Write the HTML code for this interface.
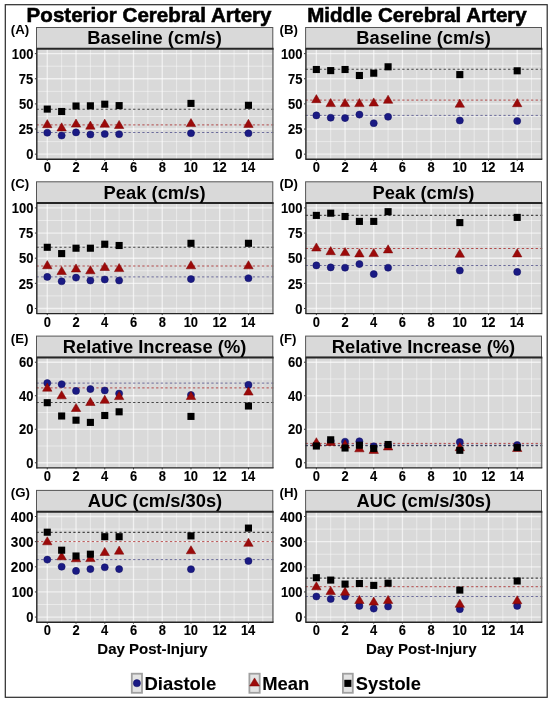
<!DOCTYPE html>
<html><head><meta charset="utf-8"><title>Cerebral Artery Velocities</title>
<style>html,body{margin:0;padding:0;background:#fff;width:550px;height:702px;overflow:hidden}</style>
</head><body>
<svg width="550" height="702" viewBox="0 0 550 702" style="display:block;font-family:'Liberation Sans', sans-serif;will-change:transform" font-weight="bold">
<rect x="0" y="0" width="550" height="702" fill="#fff"/>
<rect x="36.50" y="27.50" width="236.30" height="21.20" fill="#d9d9d9" stroke="#555555" stroke-width="1"/>
<rect x="36.50" y="48.60" width="237.10" height="110.60" fill="#d9d9d9"/>
<line x1="36.50" x2="273.60" y1="141.60" y2="141.60" stroke="#fff" stroke-opacity="0.5" stroke-width="0.9"/>
<line x1="36.50" x2="273.60" y1="116.47" y2="116.47" stroke="#fff" stroke-opacity="0.5" stroke-width="0.9"/>
<line x1="36.50" x2="273.60" y1="91.33" y2="91.33" stroke="#fff" stroke-opacity="0.5" stroke-width="0.9"/>
<line x1="36.50" x2="273.60" y1="66.20" y2="66.20" stroke="#fff" stroke-opacity="0.5" stroke-width="0.9"/>
<line x1="61.65" x2="61.65" y1="48.60" y2="159.20" stroke="#fff" stroke-opacity="0.5" stroke-width="0.9"/>
<line x1="90.39" x2="90.39" y1="48.60" y2="159.20" stroke="#fff" stroke-opacity="0.5" stroke-width="0.9"/>
<line x1="119.13" x2="119.13" y1="48.60" y2="159.20" stroke="#fff" stroke-opacity="0.5" stroke-width="0.9"/>
<line x1="147.87" x2="147.87" y1="48.60" y2="159.20" stroke="#fff" stroke-opacity="0.5" stroke-width="0.9"/>
<line x1="176.60" x2="176.60" y1="48.60" y2="159.20" stroke="#fff" stroke-opacity="0.5" stroke-width="0.9"/>
<line x1="205.34" x2="205.34" y1="48.60" y2="159.20" stroke="#fff" stroke-opacity="0.5" stroke-width="0.9"/>
<line x1="234.08" x2="234.08" y1="48.60" y2="159.20" stroke="#fff" stroke-opacity="0.5" stroke-width="0.9"/>
<line x1="262.82" x2="262.82" y1="48.60" y2="159.20" stroke="#fff" stroke-opacity="0.5" stroke-width="0.9"/>
<line x1="36.50" x2="273.60" y1="154.17" y2="154.17" stroke="#fff" stroke-opacity="0.62" stroke-width="1.35"/>
<line x1="36.50" x2="273.60" y1="129.04" y2="129.04" stroke="#fff" stroke-opacity="0.62" stroke-width="1.35"/>
<line x1="36.50" x2="273.60" y1="103.90" y2="103.90" stroke="#fff" stroke-opacity="0.62" stroke-width="1.35"/>
<line x1="36.50" x2="273.60" y1="78.76" y2="78.76" stroke="#fff" stroke-opacity="0.62" stroke-width="1.35"/>
<line x1="36.50" x2="273.60" y1="53.63" y2="53.63" stroke="#fff" stroke-opacity="0.62" stroke-width="1.35"/>
<line x1="47.28" x2="47.28" y1="48.60" y2="159.20" stroke="#fff" stroke-opacity="0.62" stroke-width="1.35"/>
<line x1="76.02" x2="76.02" y1="48.60" y2="159.20" stroke="#fff" stroke-opacity="0.62" stroke-width="1.35"/>
<line x1="104.76" x2="104.76" y1="48.60" y2="159.20" stroke="#fff" stroke-opacity="0.62" stroke-width="1.35"/>
<line x1="133.50" x2="133.50" y1="48.60" y2="159.20" stroke="#fff" stroke-opacity="0.62" stroke-width="1.35"/>
<line x1="162.23" x2="162.23" y1="48.60" y2="159.20" stroke="#fff" stroke-opacity="0.62" stroke-width="1.35"/>
<line x1="190.97" x2="190.97" y1="48.60" y2="159.20" stroke="#fff" stroke-opacity="0.62" stroke-width="1.35"/>
<line x1="219.71" x2="219.71" y1="48.60" y2="159.20" stroke="#fff" stroke-opacity="0.62" stroke-width="1.35"/>
<line x1="248.45" x2="248.45" y1="48.60" y2="159.20" stroke="#fff" stroke-opacity="0.62" stroke-width="1.35"/>
<line x1="36.50" x2="273.60" y1="109.30" y2="109.30" stroke="#2a2a2a" stroke-width="1.1" stroke-dasharray="2.3 2.3" stroke-opacity="0.85"/>
<line x1="36.50" x2="273.60" y1="124.90" y2="124.90" stroke="#a01010" stroke-width="0.95" stroke-dasharray="2.3 2.3" stroke-opacity="0.75"/>
<line x1="36.50" x2="273.60" y1="132.50" y2="132.50" stroke="#33337a" stroke-width="0.95" stroke-dasharray="2.3 2.3" stroke-opacity="0.7"/>
<circle cx="47.28" cy="132.70" r="3.55" fill="#1a1a84" stroke="#0e0e60" stroke-width="0.5"/>
<circle cx="61.65" cy="135.50" r="3.55" fill="#1a1a84" stroke="#0e0e60" stroke-width="0.5"/>
<circle cx="76.02" cy="132.40" r="3.55" fill="#1a1a84" stroke="#0e0e60" stroke-width="0.5"/>
<circle cx="90.39" cy="134.50" r="3.55" fill="#1a1a84" stroke="#0e0e60" stroke-width="0.5"/>
<circle cx="104.76" cy="134.00" r="3.55" fill="#1a1a84" stroke="#0e0e60" stroke-width="0.5"/>
<circle cx="119.13" cy="134.20" r="3.55" fill="#1a1a84" stroke="#0e0e60" stroke-width="0.5"/>
<circle cx="190.97" cy="133.20" r="3.55" fill="#1a1a84" stroke="#0e0e60" stroke-width="0.5"/>
<circle cx="248.45" cy="133.30" r="3.55" fill="#1a1a84" stroke="#0e0e60" stroke-width="0.5"/>
<polygon points="47.28,119.60 51.98,127.70 42.58,127.70" fill="#9c0a0a" stroke="#7a0000" stroke-width="0.5"/>
<polygon points="61.65,122.80 66.35,130.90 56.95,130.90" fill="#9c0a0a" stroke="#7a0000" stroke-width="0.5"/>
<polygon points="76.02,119.00 80.72,127.10 71.32,127.10" fill="#9c0a0a" stroke="#7a0000" stroke-width="0.5"/>
<polygon points="90.39,121.10 95.09,129.20 85.69,129.20" fill="#9c0a0a" stroke="#7a0000" stroke-width="0.5"/>
<polygon points="104.76,119.10 109.46,127.20 100.06,127.20" fill="#9c0a0a" stroke="#7a0000" stroke-width="0.5"/>
<polygon points="119.13,120.40 123.83,128.50 114.43,128.50" fill="#9c0a0a" stroke="#7a0000" stroke-width="0.5"/>
<polygon points="190.97,118.50 195.67,126.60 186.27,126.60" fill="#9c0a0a" stroke="#7a0000" stroke-width="0.5"/>
<polygon points="248.45,119.30 253.15,127.40 243.75,127.40" fill="#9c0a0a" stroke="#7a0000" stroke-width="0.5"/>
<rect x="43.73" y="105.55" width="7.1" height="7.1" fill="#000000"/>
<rect x="58.10" y="107.95" width="7.1" height="7.1" fill="#000000"/>
<rect x="72.47" y="102.45" width="7.1" height="7.1" fill="#000000"/>
<rect x="86.84" y="102.25" width="7.1" height="7.1" fill="#000000"/>
<rect x="101.21" y="100.65" width="7.1" height="7.1" fill="#000000"/>
<rect x="115.58" y="102.05" width="7.1" height="7.1" fill="#000000"/>
<rect x="187.42" y="99.85" width="7.1" height="7.1" fill="#000000"/>
<rect x="244.90" y="101.75" width="7.1" height="7.1" fill="#000000"/>
<line x1="272.90" x2="272.90" y1="48.60" y2="159.20" stroke="#707070" stroke-width="1.4"/>
<line x1="36.50" x2="273.60" y1="48.80" y2="48.80" stroke="#262626" stroke-width="2"/>
<line x1="36.80" x2="36.80" y1="48.60" y2="159.80" stroke="#262626" stroke-width="1.4"/>
<line x1="36.50" x2="273.60" y1="159.30" y2="159.30" stroke="#262626" stroke-width="1.4"/>
<line x1="34.90" x2="36.50" y1="154.17" y2="154.17" stroke="#333" stroke-width="1"/>
<text x="26.22" y="159.37" font-size="14.10" textLength="7.21" lengthAdjust="spacingAndGlyphs" fill="#000" stroke="#000" stroke-width="0.10">0</text>
<line x1="34.90" x2="36.50" y1="129.04" y2="129.04" stroke="#333" stroke-width="1"/>
<text x="18.83" y="134.24" font-size="14.10" textLength="14.43" lengthAdjust="spacingAndGlyphs" fill="#000" stroke="#000" stroke-width="0.10">25</text>
<line x1="34.90" x2="36.50" y1="103.90" y2="103.90" stroke="#333" stroke-width="1"/>
<text x="19.00" y="109.10" font-size="14.10" textLength="14.43" lengthAdjust="spacingAndGlyphs" fill="#000" stroke="#000" stroke-width="0.10">50</text>
<line x1="34.90" x2="36.50" y1="78.76" y2="78.76" stroke="#333" stroke-width="1"/>
<text x="18.83" y="83.96" font-size="14.10" textLength="14.43" lengthAdjust="spacingAndGlyphs" fill="#000" stroke="#000" stroke-width="0.10">75</text>
<line x1="34.90" x2="36.50" y1="53.63" y2="53.63" stroke="#333" stroke-width="1"/>
<text x="11.79" y="58.83" font-size="14.10" textLength="21.64" lengthAdjust="spacingAndGlyphs" fill="#000" stroke="#000" stroke-width="0.10">100</text>
<line x1="47.28" x2="47.28" y1="159.20" y2="160.80" stroke="#333" stroke-width="1"/>
<text x="43.69" y="172.35" font-size="13.90" textLength="7.19" lengthAdjust="spacingAndGlyphs" fill="#000" stroke="#000" stroke-width="0.10">0</text>
<line x1="76.02" x2="76.02" y1="159.20" y2="160.80" stroke="#333" stroke-width="1"/>
<text x="72.46" y="172.35" font-size="13.90" textLength="7.19" lengthAdjust="spacingAndGlyphs" fill="#000" stroke="#000" stroke-width="0.10">2</text>
<line x1="104.76" x2="104.76" y1="159.20" y2="160.80" stroke="#333" stroke-width="1"/>
<text x="101.10" y="172.35" font-size="13.90" textLength="7.19" lengthAdjust="spacingAndGlyphs" fill="#000" stroke="#000" stroke-width="0.10">4</text>
<line x1="133.50" x2="133.50" y1="159.20" y2="160.80" stroke="#333" stroke-width="1"/>
<text x="129.90" y="172.35" font-size="13.90" textLength="7.19" lengthAdjust="spacingAndGlyphs" fill="#000" stroke="#000" stroke-width="0.10">6</text>
<line x1="162.23" x2="162.23" y1="159.20" y2="160.80" stroke="#333" stroke-width="1"/>
<text x="158.63" y="172.35" font-size="13.90" textLength="7.19" lengthAdjust="spacingAndGlyphs" fill="#000" stroke="#000" stroke-width="0.10">8</text>
<line x1="190.97" x2="190.97" y1="159.20" y2="160.80" stroke="#333" stroke-width="1"/>
<text x="183.64" y="172.35" font-size="13.90" textLength="14.38" lengthAdjust="spacingAndGlyphs" fill="#000" stroke="#000" stroke-width="0.10">10</text>
<line x1="219.71" x2="219.71" y1="159.20" y2="160.80" stroke="#333" stroke-width="1"/>
<text x="212.38" y="172.35" font-size="13.90" textLength="14.38" lengthAdjust="spacingAndGlyphs" fill="#000" stroke="#000" stroke-width="0.10">12</text>
<line x1="248.45" x2="248.45" y1="159.20" y2="160.80" stroke="#333" stroke-width="1"/>
<text x="240.89" y="172.35" font-size="13.90" textLength="14.38" lengthAdjust="spacingAndGlyphs" fill="#000" stroke="#000" stroke-width="0.10">14</text>
<text x="87.32" y="44.20" font-size="17.60" textLength="134.54" lengthAdjust="spacingAndGlyphs" fill="#000">Baseline (cm/s)</text>
<text x="10.74" y="34.10" font-size="12.80" textLength="18.41" lengthAdjust="spacingAndGlyphs" fill="#000">(A)</text>
<rect x="305.60" y="27.50" width="235.90" height="21.20" fill="#d9d9d9" stroke="#555555" stroke-width="1"/>
<rect x="305.60" y="48.60" width="236.70" height="110.60" fill="#d9d9d9"/>
<line x1="305.60" x2="542.30" y1="141.60" y2="141.60" stroke="#fff" stroke-opacity="0.5" stroke-width="0.9"/>
<line x1="305.60" x2="542.30" y1="116.47" y2="116.47" stroke="#fff" stroke-opacity="0.5" stroke-width="0.9"/>
<line x1="305.60" x2="542.30" y1="91.33" y2="91.33" stroke="#fff" stroke-opacity="0.5" stroke-width="0.9"/>
<line x1="305.60" x2="542.30" y1="66.20" y2="66.20" stroke="#fff" stroke-opacity="0.5" stroke-width="0.9"/>
<line x1="330.70" x2="330.70" y1="48.60" y2="159.20" stroke="#fff" stroke-opacity="0.5" stroke-width="0.9"/>
<line x1="359.40" x2="359.40" y1="48.60" y2="159.20" stroke="#fff" stroke-opacity="0.5" stroke-width="0.9"/>
<line x1="388.09" x2="388.09" y1="48.60" y2="159.20" stroke="#fff" stroke-opacity="0.5" stroke-width="0.9"/>
<line x1="416.78" x2="416.78" y1="48.60" y2="159.20" stroke="#fff" stroke-opacity="0.5" stroke-width="0.9"/>
<line x1="445.47" x2="445.47" y1="48.60" y2="159.20" stroke="#fff" stroke-opacity="0.5" stroke-width="0.9"/>
<line x1="474.16" x2="474.16" y1="48.60" y2="159.20" stroke="#fff" stroke-opacity="0.5" stroke-width="0.9"/>
<line x1="502.85" x2="502.85" y1="48.60" y2="159.20" stroke="#fff" stroke-opacity="0.5" stroke-width="0.9"/>
<line x1="531.54" x2="531.54" y1="48.60" y2="159.20" stroke="#fff" stroke-opacity="0.5" stroke-width="0.9"/>
<line x1="305.60" x2="542.30" y1="154.17" y2="154.17" stroke="#fff" stroke-opacity="0.62" stroke-width="1.35"/>
<line x1="305.60" x2="542.30" y1="129.04" y2="129.04" stroke="#fff" stroke-opacity="0.62" stroke-width="1.35"/>
<line x1="305.60" x2="542.30" y1="103.90" y2="103.90" stroke="#fff" stroke-opacity="0.62" stroke-width="1.35"/>
<line x1="305.60" x2="542.30" y1="78.76" y2="78.76" stroke="#fff" stroke-opacity="0.62" stroke-width="1.35"/>
<line x1="305.60" x2="542.30" y1="53.63" y2="53.63" stroke="#fff" stroke-opacity="0.62" stroke-width="1.35"/>
<line x1="316.36" x2="316.36" y1="48.60" y2="159.20" stroke="#fff" stroke-opacity="0.62" stroke-width="1.35"/>
<line x1="345.05" x2="345.05" y1="48.60" y2="159.20" stroke="#fff" stroke-opacity="0.62" stroke-width="1.35"/>
<line x1="373.74" x2="373.74" y1="48.60" y2="159.20" stroke="#fff" stroke-opacity="0.62" stroke-width="1.35"/>
<line x1="402.43" x2="402.43" y1="48.60" y2="159.20" stroke="#fff" stroke-opacity="0.62" stroke-width="1.35"/>
<line x1="431.12" x2="431.12" y1="48.60" y2="159.20" stroke="#fff" stroke-opacity="0.62" stroke-width="1.35"/>
<line x1="459.81" x2="459.81" y1="48.60" y2="159.20" stroke="#fff" stroke-opacity="0.62" stroke-width="1.35"/>
<line x1="488.50" x2="488.50" y1="48.60" y2="159.20" stroke="#fff" stroke-opacity="0.62" stroke-width="1.35"/>
<line x1="517.20" x2="517.20" y1="48.60" y2="159.20" stroke="#fff" stroke-opacity="0.62" stroke-width="1.35"/>
<line x1="305.60" x2="542.30" y1="69.20" y2="69.20" stroke="#2a2a2a" stroke-width="1.1" stroke-dasharray="2.3 2.3" stroke-opacity="0.85"/>
<line x1="305.60" x2="542.30" y1="100.10" y2="100.10" stroke="#a01010" stroke-width="0.95" stroke-dasharray="2.3 2.3" stroke-opacity="0.75"/>
<line x1="305.60" x2="542.30" y1="115.40" y2="115.40" stroke="#33337a" stroke-width="0.95" stroke-dasharray="2.3 2.3" stroke-opacity="0.7"/>
<circle cx="316.36" cy="115.40" r="3.55" fill="#1a1a84" stroke="#0e0e60" stroke-width="0.5"/>
<circle cx="330.70" cy="117.70" r="3.55" fill="#1a1a84" stroke="#0e0e60" stroke-width="0.5"/>
<circle cx="345.05" cy="118.10" r="3.55" fill="#1a1a84" stroke="#0e0e60" stroke-width="0.5"/>
<circle cx="359.40" cy="114.60" r="3.55" fill="#1a1a84" stroke="#0e0e60" stroke-width="0.5"/>
<circle cx="373.74" cy="123.20" r="3.55" fill="#1a1a84" stroke="#0e0e60" stroke-width="0.5"/>
<circle cx="388.09" cy="116.80" r="3.55" fill="#1a1a84" stroke="#0e0e60" stroke-width="0.5"/>
<circle cx="459.81" cy="120.50" r="3.55" fill="#1a1a84" stroke="#0e0e60" stroke-width="0.5"/>
<circle cx="517.20" cy="121.00" r="3.55" fill="#1a1a84" stroke="#0e0e60" stroke-width="0.5"/>
<polygon points="316.36,94.60 321.06,102.70 311.66,102.70" fill="#9c0a0a" stroke="#7a0000" stroke-width="0.5"/>
<polygon points="330.70,98.50 335.40,106.60 326.00,106.60" fill="#9c0a0a" stroke="#7a0000" stroke-width="0.5"/>
<polygon points="345.05,98.50 349.75,106.60 340.35,106.60" fill="#9c0a0a" stroke="#7a0000" stroke-width="0.5"/>
<polygon points="359.40,98.50 364.10,106.60 354.70,106.60" fill="#9c0a0a" stroke="#7a0000" stroke-width="0.5"/>
<polygon points="373.74,97.90 378.44,106.00 369.04,106.00" fill="#9c0a0a" stroke="#7a0000" stroke-width="0.5"/>
<polygon points="388.09,95.20 392.79,103.30 383.39,103.30" fill="#9c0a0a" stroke="#7a0000" stroke-width="0.5"/>
<polygon points="459.81,99.10 464.51,107.20 455.11,107.20" fill="#9c0a0a" stroke="#7a0000" stroke-width="0.5"/>
<polygon points="517.20,98.60 521.90,106.70 512.50,106.70" fill="#9c0a0a" stroke="#7a0000" stroke-width="0.5"/>
<rect x="312.81" y="65.95" width="7.1" height="7.1" fill="#000000"/>
<rect x="327.15" y="67.05" width="7.1" height="7.1" fill="#000000"/>
<rect x="341.50" y="65.95" width="7.1" height="7.1" fill="#000000"/>
<rect x="355.85" y="71.95" width="7.1" height="7.1" fill="#000000"/>
<rect x="370.19" y="69.65" width="7.1" height="7.1" fill="#000000"/>
<rect x="384.54" y="63.25" width="7.1" height="7.1" fill="#000000"/>
<rect x="456.26" y="71.05" width="7.1" height="7.1" fill="#000000"/>
<rect x="513.65" y="67.25" width="7.1" height="7.1" fill="#000000"/>
<line x1="541.60" x2="541.60" y1="48.60" y2="159.20" stroke="#707070" stroke-width="1.4"/>
<line x1="305.60" x2="542.30" y1="48.80" y2="48.80" stroke="#262626" stroke-width="2"/>
<line x1="305.90" x2="305.90" y1="48.60" y2="159.80" stroke="#262626" stroke-width="1.4"/>
<line x1="305.60" x2="542.30" y1="159.30" y2="159.30" stroke="#262626" stroke-width="1.4"/>
<line x1="304.00" x2="305.60" y1="154.17" y2="154.17" stroke="#333" stroke-width="1"/>
<text x="295.32" y="159.37" font-size="14.10" textLength="7.21" lengthAdjust="spacingAndGlyphs" fill="#000" stroke="#000" stroke-width="0.10">0</text>
<line x1="304.00" x2="305.60" y1="129.04" y2="129.04" stroke="#333" stroke-width="1"/>
<text x="287.93" y="134.24" font-size="14.10" textLength="14.43" lengthAdjust="spacingAndGlyphs" fill="#000" stroke="#000" stroke-width="0.10">25</text>
<line x1="304.00" x2="305.60" y1="103.90" y2="103.90" stroke="#333" stroke-width="1"/>
<text x="288.10" y="109.10" font-size="14.10" textLength="14.43" lengthAdjust="spacingAndGlyphs" fill="#000" stroke="#000" stroke-width="0.10">50</text>
<line x1="304.00" x2="305.60" y1="78.76" y2="78.76" stroke="#333" stroke-width="1"/>
<text x="287.93" y="83.96" font-size="14.10" textLength="14.43" lengthAdjust="spacingAndGlyphs" fill="#000" stroke="#000" stroke-width="0.10">75</text>
<line x1="304.00" x2="305.60" y1="53.63" y2="53.63" stroke="#333" stroke-width="1"/>
<text x="280.89" y="58.83" font-size="14.10" textLength="21.64" lengthAdjust="spacingAndGlyphs" fill="#000" stroke="#000" stroke-width="0.10">100</text>
<line x1="316.36" x2="316.36" y1="159.20" y2="160.80" stroke="#333" stroke-width="1"/>
<text x="312.77" y="172.35" font-size="13.90" textLength="7.19" lengthAdjust="spacingAndGlyphs" fill="#000" stroke="#000" stroke-width="0.10">0</text>
<line x1="345.05" x2="345.05" y1="159.20" y2="160.80" stroke="#333" stroke-width="1"/>
<text x="341.49" y="172.35" font-size="13.90" textLength="7.19" lengthAdjust="spacingAndGlyphs" fill="#000" stroke="#000" stroke-width="0.10">2</text>
<line x1="373.74" x2="373.74" y1="159.20" y2="160.80" stroke="#333" stroke-width="1"/>
<text x="370.08" y="172.35" font-size="13.90" textLength="7.19" lengthAdjust="spacingAndGlyphs" fill="#000" stroke="#000" stroke-width="0.10">4</text>
<line x1="402.43" x2="402.43" y1="159.20" y2="160.80" stroke="#333" stroke-width="1"/>
<text x="398.83" y="172.35" font-size="13.90" textLength="7.19" lengthAdjust="spacingAndGlyphs" fill="#000" stroke="#000" stroke-width="0.10">6</text>
<line x1="431.12" x2="431.12" y1="159.20" y2="160.80" stroke="#333" stroke-width="1"/>
<text x="427.52" y="172.35" font-size="13.90" textLength="7.19" lengthAdjust="spacingAndGlyphs" fill="#000" stroke="#000" stroke-width="0.10">8</text>
<line x1="459.81" x2="459.81" y1="159.20" y2="160.80" stroke="#333" stroke-width="1"/>
<text x="452.48" y="172.35" font-size="13.90" textLength="14.38" lengthAdjust="spacingAndGlyphs" fill="#000" stroke="#000" stroke-width="0.10">10</text>
<line x1="488.50" x2="488.50" y1="159.20" y2="160.80" stroke="#333" stroke-width="1"/>
<text x="481.17" y="172.35" font-size="13.90" textLength="14.38" lengthAdjust="spacingAndGlyphs" fill="#000" stroke="#000" stroke-width="0.10">12</text>
<line x1="517.20" x2="517.20" y1="159.20" y2="160.80" stroke="#333" stroke-width="1"/>
<text x="509.63" y="172.35" font-size="13.90" textLength="14.38" lengthAdjust="spacingAndGlyphs" fill="#000" stroke="#000" stroke-width="0.10">14</text>
<text x="356.22" y="44.20" font-size="17.60" textLength="134.54" lengthAdjust="spacingAndGlyphs" fill="#000">Baseline (cm/s)</text>
<text x="279.54" y="34.10" font-size="12.80" textLength="18.41" lengthAdjust="spacingAndGlyphs" fill="#000">(B)</text>
<rect x="36.50" y="181.80" width="236.30" height="21.20" fill="#d9d9d9" stroke="#555555" stroke-width="1"/>
<rect x="36.50" y="202.90" width="237.10" height="110.60" fill="#d9d9d9"/>
<line x1="36.50" x2="273.60" y1="295.90" y2="295.90" stroke="#fff" stroke-opacity="0.5" stroke-width="0.9"/>
<line x1="36.50" x2="273.60" y1="270.77" y2="270.77" stroke="#fff" stroke-opacity="0.5" stroke-width="0.9"/>
<line x1="36.50" x2="273.60" y1="245.63" y2="245.63" stroke="#fff" stroke-opacity="0.5" stroke-width="0.9"/>
<line x1="36.50" x2="273.60" y1="220.50" y2="220.50" stroke="#fff" stroke-opacity="0.5" stroke-width="0.9"/>
<line x1="61.65" x2="61.65" y1="202.90" y2="313.50" stroke="#fff" stroke-opacity="0.5" stroke-width="0.9"/>
<line x1="90.39" x2="90.39" y1="202.90" y2="313.50" stroke="#fff" stroke-opacity="0.5" stroke-width="0.9"/>
<line x1="119.13" x2="119.13" y1="202.90" y2="313.50" stroke="#fff" stroke-opacity="0.5" stroke-width="0.9"/>
<line x1="147.87" x2="147.87" y1="202.90" y2="313.50" stroke="#fff" stroke-opacity="0.5" stroke-width="0.9"/>
<line x1="176.60" x2="176.60" y1="202.90" y2="313.50" stroke="#fff" stroke-opacity="0.5" stroke-width="0.9"/>
<line x1="205.34" x2="205.34" y1="202.90" y2="313.50" stroke="#fff" stroke-opacity="0.5" stroke-width="0.9"/>
<line x1="234.08" x2="234.08" y1="202.90" y2="313.50" stroke="#fff" stroke-opacity="0.5" stroke-width="0.9"/>
<line x1="262.82" x2="262.82" y1="202.90" y2="313.50" stroke="#fff" stroke-opacity="0.5" stroke-width="0.9"/>
<line x1="36.50" x2="273.60" y1="308.47" y2="308.47" stroke="#fff" stroke-opacity="0.62" stroke-width="1.35"/>
<line x1="36.50" x2="273.60" y1="283.34" y2="283.34" stroke="#fff" stroke-opacity="0.62" stroke-width="1.35"/>
<line x1="36.50" x2="273.60" y1="258.20" y2="258.20" stroke="#fff" stroke-opacity="0.62" stroke-width="1.35"/>
<line x1="36.50" x2="273.60" y1="233.06" y2="233.06" stroke="#fff" stroke-opacity="0.62" stroke-width="1.35"/>
<line x1="36.50" x2="273.60" y1="207.93" y2="207.93" stroke="#fff" stroke-opacity="0.62" stroke-width="1.35"/>
<line x1="47.28" x2="47.28" y1="202.90" y2="313.50" stroke="#fff" stroke-opacity="0.62" stroke-width="1.35"/>
<line x1="76.02" x2="76.02" y1="202.90" y2="313.50" stroke="#fff" stroke-opacity="0.62" stroke-width="1.35"/>
<line x1="104.76" x2="104.76" y1="202.90" y2="313.50" stroke="#fff" stroke-opacity="0.62" stroke-width="1.35"/>
<line x1="133.50" x2="133.50" y1="202.90" y2="313.50" stroke="#fff" stroke-opacity="0.62" stroke-width="1.35"/>
<line x1="162.23" x2="162.23" y1="202.90" y2="313.50" stroke="#fff" stroke-opacity="0.62" stroke-width="1.35"/>
<line x1="190.97" x2="190.97" y1="202.90" y2="313.50" stroke="#fff" stroke-opacity="0.62" stroke-width="1.35"/>
<line x1="219.71" x2="219.71" y1="202.90" y2="313.50" stroke="#fff" stroke-opacity="0.62" stroke-width="1.35"/>
<line x1="248.45" x2="248.45" y1="202.90" y2="313.50" stroke="#fff" stroke-opacity="0.62" stroke-width="1.35"/>
<line x1="36.50" x2="273.60" y1="247.30" y2="247.30" stroke="#2a2a2a" stroke-width="1.1" stroke-dasharray="2.3 2.3" stroke-opacity="0.85"/>
<line x1="36.50" x2="273.60" y1="266.00" y2="266.00" stroke="#a01010" stroke-width="0.95" stroke-dasharray="2.3 2.3" stroke-opacity="0.75"/>
<line x1="36.50" x2="273.60" y1="276.90" y2="276.90" stroke="#33337a" stroke-width="0.95" stroke-dasharray="2.3 2.3" stroke-opacity="0.7"/>
<circle cx="47.28" cy="276.90" r="3.55" fill="#1a1a84" stroke="#0e0e60" stroke-width="0.5"/>
<circle cx="61.65" cy="281.30" r="3.55" fill="#1a1a84" stroke="#0e0e60" stroke-width="0.5"/>
<circle cx="76.02" cy="277.60" r="3.55" fill="#1a1a84" stroke="#0e0e60" stroke-width="0.5"/>
<circle cx="90.39" cy="280.50" r="3.55" fill="#1a1a84" stroke="#0e0e60" stroke-width="0.5"/>
<circle cx="104.76" cy="279.50" r="3.55" fill="#1a1a84" stroke="#0e0e60" stroke-width="0.5"/>
<circle cx="119.13" cy="280.50" r="3.55" fill="#1a1a84" stroke="#0e0e60" stroke-width="0.5"/>
<circle cx="190.97" cy="279.10" r="3.55" fill="#1a1a84" stroke="#0e0e60" stroke-width="0.5"/>
<circle cx="248.45" cy="278.20" r="3.55" fill="#1a1a84" stroke="#0e0e60" stroke-width="0.5"/>
<polygon points="47.28,260.60 51.98,268.70 42.58,268.70" fill="#9c0a0a" stroke="#7a0000" stroke-width="0.5"/>
<polygon points="61.65,266.40 66.35,274.50 56.95,274.50" fill="#9c0a0a" stroke="#7a0000" stroke-width="0.5"/>
<polygon points="76.02,263.90 80.72,272.00 71.32,272.00" fill="#9c0a0a" stroke="#7a0000" stroke-width="0.5"/>
<polygon points="90.39,265.70 95.09,273.80 85.69,273.80" fill="#9c0a0a" stroke="#7a0000" stroke-width="0.5"/>
<polygon points="104.76,262.40 109.46,270.50 100.06,270.50" fill="#9c0a0a" stroke="#7a0000" stroke-width="0.5"/>
<polygon points="119.13,263.50 123.83,271.60 114.43,271.60" fill="#9c0a0a" stroke="#7a0000" stroke-width="0.5"/>
<polygon points="190.97,260.70 195.67,268.80 186.27,268.80" fill="#9c0a0a" stroke="#7a0000" stroke-width="0.5"/>
<polygon points="248.45,260.70 253.15,268.80 243.75,268.80" fill="#9c0a0a" stroke="#7a0000" stroke-width="0.5"/>
<rect x="43.73" y="243.75" width="7.1" height="7.1" fill="#000000"/>
<rect x="58.10" y="250.05" width="7.1" height="7.1" fill="#000000"/>
<rect x="72.47" y="244.65" width="7.1" height="7.1" fill="#000000"/>
<rect x="86.84" y="244.65" width="7.1" height="7.1" fill="#000000"/>
<rect x="101.21" y="240.65" width="7.1" height="7.1" fill="#000000"/>
<rect x="115.58" y="241.95" width="7.1" height="7.1" fill="#000000"/>
<rect x="187.42" y="239.75" width="7.1" height="7.1" fill="#000000"/>
<rect x="244.90" y="239.75" width="7.1" height="7.1" fill="#000000"/>
<line x1="272.90" x2="272.90" y1="202.90" y2="313.50" stroke="#707070" stroke-width="1.4"/>
<line x1="36.50" x2="273.60" y1="203.10" y2="203.10" stroke="#262626" stroke-width="2"/>
<line x1="36.80" x2="36.80" y1="202.90" y2="314.10" stroke="#262626" stroke-width="1.4"/>
<line x1="36.50" x2="273.60" y1="313.60" y2="313.60" stroke="#262626" stroke-width="1.4"/>
<line x1="34.90" x2="36.50" y1="308.47" y2="308.47" stroke="#333" stroke-width="1"/>
<text x="26.22" y="313.67" font-size="14.10" textLength="7.21" lengthAdjust="spacingAndGlyphs" fill="#000" stroke="#000" stroke-width="0.10">0</text>
<line x1="34.90" x2="36.50" y1="283.34" y2="283.34" stroke="#333" stroke-width="1"/>
<text x="18.83" y="288.54" font-size="14.10" textLength="14.43" lengthAdjust="spacingAndGlyphs" fill="#000" stroke="#000" stroke-width="0.10">25</text>
<line x1="34.90" x2="36.50" y1="258.20" y2="258.20" stroke="#333" stroke-width="1"/>
<text x="19.00" y="263.40" font-size="14.10" textLength="14.43" lengthAdjust="spacingAndGlyphs" fill="#000" stroke="#000" stroke-width="0.10">50</text>
<line x1="34.90" x2="36.50" y1="233.06" y2="233.06" stroke="#333" stroke-width="1"/>
<text x="18.83" y="238.26" font-size="14.10" textLength="14.43" lengthAdjust="spacingAndGlyphs" fill="#000" stroke="#000" stroke-width="0.10">75</text>
<line x1="34.90" x2="36.50" y1="207.93" y2="207.93" stroke="#333" stroke-width="1"/>
<text x="11.79" y="213.13" font-size="14.10" textLength="21.64" lengthAdjust="spacingAndGlyphs" fill="#000" stroke="#000" stroke-width="0.10">100</text>
<line x1="47.28" x2="47.28" y1="313.50" y2="315.10" stroke="#333" stroke-width="1"/>
<text x="43.69" y="326.65" font-size="13.90" textLength="7.19" lengthAdjust="spacingAndGlyphs" fill="#000" stroke="#000" stroke-width="0.10">0</text>
<line x1="76.02" x2="76.02" y1="313.50" y2="315.10" stroke="#333" stroke-width="1"/>
<text x="72.46" y="326.65" font-size="13.90" textLength="7.19" lengthAdjust="spacingAndGlyphs" fill="#000" stroke="#000" stroke-width="0.10">2</text>
<line x1="104.76" x2="104.76" y1="313.50" y2="315.10" stroke="#333" stroke-width="1"/>
<text x="101.10" y="326.65" font-size="13.90" textLength="7.19" lengthAdjust="spacingAndGlyphs" fill="#000" stroke="#000" stroke-width="0.10">4</text>
<line x1="133.50" x2="133.50" y1="313.50" y2="315.10" stroke="#333" stroke-width="1"/>
<text x="129.90" y="326.65" font-size="13.90" textLength="7.19" lengthAdjust="spacingAndGlyphs" fill="#000" stroke="#000" stroke-width="0.10">6</text>
<line x1="162.23" x2="162.23" y1="313.50" y2="315.10" stroke="#333" stroke-width="1"/>
<text x="158.63" y="326.65" font-size="13.90" textLength="7.19" lengthAdjust="spacingAndGlyphs" fill="#000" stroke="#000" stroke-width="0.10">8</text>
<line x1="190.97" x2="190.97" y1="313.50" y2="315.10" stroke="#333" stroke-width="1"/>
<text x="183.64" y="326.65" font-size="13.90" textLength="14.38" lengthAdjust="spacingAndGlyphs" fill="#000" stroke="#000" stroke-width="0.10">10</text>
<line x1="219.71" x2="219.71" y1="313.50" y2="315.10" stroke="#333" stroke-width="1"/>
<text x="212.38" y="326.65" font-size="13.90" textLength="14.38" lengthAdjust="spacingAndGlyphs" fill="#000" stroke="#000" stroke-width="0.10">12</text>
<line x1="248.45" x2="248.45" y1="313.50" y2="315.10" stroke="#333" stroke-width="1"/>
<text x="240.89" y="326.65" font-size="13.90" textLength="14.38" lengthAdjust="spacingAndGlyphs" fill="#000" stroke="#000" stroke-width="0.10">14</text>
<text x="103.62" y="198.50" font-size="17.60" textLength="101.94" lengthAdjust="spacingAndGlyphs" fill="#000">Peak (cm/s)</text>
<text x="10.74" y="188.40" font-size="12.80" textLength="18.41" lengthAdjust="spacingAndGlyphs" fill="#000">(C)</text>
<rect x="305.60" y="181.80" width="235.90" height="21.20" fill="#d9d9d9" stroke="#555555" stroke-width="1"/>
<rect x="305.60" y="202.90" width="236.70" height="110.60" fill="#d9d9d9"/>
<line x1="305.60" x2="542.30" y1="295.90" y2="295.90" stroke="#fff" stroke-opacity="0.5" stroke-width="0.9"/>
<line x1="305.60" x2="542.30" y1="270.77" y2="270.77" stroke="#fff" stroke-opacity="0.5" stroke-width="0.9"/>
<line x1="305.60" x2="542.30" y1="245.63" y2="245.63" stroke="#fff" stroke-opacity="0.5" stroke-width="0.9"/>
<line x1="305.60" x2="542.30" y1="220.50" y2="220.50" stroke="#fff" stroke-opacity="0.5" stroke-width="0.9"/>
<line x1="330.70" x2="330.70" y1="202.90" y2="313.50" stroke="#fff" stroke-opacity="0.5" stroke-width="0.9"/>
<line x1="359.40" x2="359.40" y1="202.90" y2="313.50" stroke="#fff" stroke-opacity="0.5" stroke-width="0.9"/>
<line x1="388.09" x2="388.09" y1="202.90" y2="313.50" stroke="#fff" stroke-opacity="0.5" stroke-width="0.9"/>
<line x1="416.78" x2="416.78" y1="202.90" y2="313.50" stroke="#fff" stroke-opacity="0.5" stroke-width="0.9"/>
<line x1="445.47" x2="445.47" y1="202.90" y2="313.50" stroke="#fff" stroke-opacity="0.5" stroke-width="0.9"/>
<line x1="474.16" x2="474.16" y1="202.90" y2="313.50" stroke="#fff" stroke-opacity="0.5" stroke-width="0.9"/>
<line x1="502.85" x2="502.85" y1="202.90" y2="313.50" stroke="#fff" stroke-opacity="0.5" stroke-width="0.9"/>
<line x1="531.54" x2="531.54" y1="202.90" y2="313.50" stroke="#fff" stroke-opacity="0.5" stroke-width="0.9"/>
<line x1="305.60" x2="542.30" y1="308.47" y2="308.47" stroke="#fff" stroke-opacity="0.62" stroke-width="1.35"/>
<line x1="305.60" x2="542.30" y1="283.34" y2="283.34" stroke="#fff" stroke-opacity="0.62" stroke-width="1.35"/>
<line x1="305.60" x2="542.30" y1="258.20" y2="258.20" stroke="#fff" stroke-opacity="0.62" stroke-width="1.35"/>
<line x1="305.60" x2="542.30" y1="233.06" y2="233.06" stroke="#fff" stroke-opacity="0.62" stroke-width="1.35"/>
<line x1="305.60" x2="542.30" y1="207.93" y2="207.93" stroke="#fff" stroke-opacity="0.62" stroke-width="1.35"/>
<line x1="316.36" x2="316.36" y1="202.90" y2="313.50" stroke="#fff" stroke-opacity="0.62" stroke-width="1.35"/>
<line x1="345.05" x2="345.05" y1="202.90" y2="313.50" stroke="#fff" stroke-opacity="0.62" stroke-width="1.35"/>
<line x1="373.74" x2="373.74" y1="202.90" y2="313.50" stroke="#fff" stroke-opacity="0.62" stroke-width="1.35"/>
<line x1="402.43" x2="402.43" y1="202.90" y2="313.50" stroke="#fff" stroke-opacity="0.62" stroke-width="1.35"/>
<line x1="431.12" x2="431.12" y1="202.90" y2="313.50" stroke="#fff" stroke-opacity="0.62" stroke-width="1.35"/>
<line x1="459.81" x2="459.81" y1="202.90" y2="313.50" stroke="#fff" stroke-opacity="0.62" stroke-width="1.35"/>
<line x1="488.50" x2="488.50" y1="202.90" y2="313.50" stroke="#fff" stroke-opacity="0.62" stroke-width="1.35"/>
<line x1="517.20" x2="517.20" y1="202.90" y2="313.50" stroke="#fff" stroke-opacity="0.62" stroke-width="1.35"/>
<line x1="305.60" x2="542.30" y1="215.40" y2="215.40" stroke="#2a2a2a" stroke-width="1.1" stroke-dasharray="2.3 2.3" stroke-opacity="0.85"/>
<line x1="305.60" x2="542.30" y1="248.50" y2="248.50" stroke="#a01010" stroke-width="0.95" stroke-dasharray="2.3 2.3" stroke-opacity="0.75"/>
<line x1="305.60" x2="542.30" y1="265.50" y2="265.50" stroke="#33337a" stroke-width="0.95" stroke-dasharray="2.3 2.3" stroke-opacity="0.7"/>
<circle cx="316.36" cy="265.40" r="3.55" fill="#1a1a84" stroke="#0e0e60" stroke-width="0.5"/>
<circle cx="330.70" cy="267.40" r="3.55" fill="#1a1a84" stroke="#0e0e60" stroke-width="0.5"/>
<circle cx="345.05" cy="267.70" r="3.55" fill="#1a1a84" stroke="#0e0e60" stroke-width="0.5"/>
<circle cx="359.40" cy="264.10" r="3.55" fill="#1a1a84" stroke="#0e0e60" stroke-width="0.5"/>
<circle cx="373.74" cy="274.10" r="3.55" fill="#1a1a84" stroke="#0e0e60" stroke-width="0.5"/>
<circle cx="388.09" cy="267.70" r="3.55" fill="#1a1a84" stroke="#0e0e60" stroke-width="0.5"/>
<circle cx="459.81" cy="270.50" r="3.55" fill="#1a1a84" stroke="#0e0e60" stroke-width="0.5"/>
<circle cx="517.20" cy="271.90" r="3.55" fill="#1a1a84" stroke="#0e0e60" stroke-width="0.5"/>
<polygon points="316.36,242.90 321.06,251.00 311.66,251.00" fill="#9c0a0a" stroke="#7a0000" stroke-width="0.5"/>
<polygon points="330.70,246.60 335.40,254.70 326.00,254.70" fill="#9c0a0a" stroke="#7a0000" stroke-width="0.5"/>
<polygon points="345.05,247.50 349.75,255.60 340.35,255.60" fill="#9c0a0a" stroke="#7a0000" stroke-width="0.5"/>
<polygon points="359.40,248.80 364.10,256.90 354.70,256.90" fill="#9c0a0a" stroke="#7a0000" stroke-width="0.5"/>
<polygon points="373.74,248.50 378.44,256.60 369.04,256.60" fill="#9c0a0a" stroke="#7a0000" stroke-width="0.5"/>
<polygon points="388.09,244.80 392.79,252.90 383.39,252.90" fill="#9c0a0a" stroke="#7a0000" stroke-width="0.5"/>
<polygon points="459.81,249.10 464.51,257.20 455.11,257.20" fill="#9c0a0a" stroke="#7a0000" stroke-width="0.5"/>
<polygon points="517.20,248.80 521.90,256.90 512.50,256.90" fill="#9c0a0a" stroke="#7a0000" stroke-width="0.5"/>
<rect x="312.81" y="211.85" width="7.1" height="7.1" fill="#000000"/>
<rect x="327.15" y="209.65" width="7.1" height="7.1" fill="#000000"/>
<rect x="341.50" y="212.95" width="7.1" height="7.1" fill="#000000"/>
<rect x="355.85" y="217.85" width="7.1" height="7.1" fill="#000000"/>
<rect x="370.19" y="217.85" width="7.1" height="7.1" fill="#000000"/>
<rect x="384.54" y="208.15" width="7.1" height="7.1" fill="#000000"/>
<rect x="456.26" y="219.05" width="7.1" height="7.1" fill="#000000"/>
<rect x="513.65" y="213.85" width="7.1" height="7.1" fill="#000000"/>
<line x1="541.60" x2="541.60" y1="202.90" y2="313.50" stroke="#707070" stroke-width="1.4"/>
<line x1="305.60" x2="542.30" y1="203.10" y2="203.10" stroke="#262626" stroke-width="2"/>
<line x1="305.90" x2="305.90" y1="202.90" y2="314.10" stroke="#262626" stroke-width="1.4"/>
<line x1="305.60" x2="542.30" y1="313.60" y2="313.60" stroke="#262626" stroke-width="1.4"/>
<line x1="304.00" x2="305.60" y1="308.47" y2="308.47" stroke="#333" stroke-width="1"/>
<text x="295.32" y="313.67" font-size="14.10" textLength="7.21" lengthAdjust="spacingAndGlyphs" fill="#000" stroke="#000" stroke-width="0.10">0</text>
<line x1="304.00" x2="305.60" y1="283.34" y2="283.34" stroke="#333" stroke-width="1"/>
<text x="287.93" y="288.54" font-size="14.10" textLength="14.43" lengthAdjust="spacingAndGlyphs" fill="#000" stroke="#000" stroke-width="0.10">25</text>
<line x1="304.00" x2="305.60" y1="258.20" y2="258.20" stroke="#333" stroke-width="1"/>
<text x="288.10" y="263.40" font-size="14.10" textLength="14.43" lengthAdjust="spacingAndGlyphs" fill="#000" stroke="#000" stroke-width="0.10">50</text>
<line x1="304.00" x2="305.60" y1="233.06" y2="233.06" stroke="#333" stroke-width="1"/>
<text x="287.93" y="238.26" font-size="14.10" textLength="14.43" lengthAdjust="spacingAndGlyphs" fill="#000" stroke="#000" stroke-width="0.10">75</text>
<line x1="304.00" x2="305.60" y1="207.93" y2="207.93" stroke="#333" stroke-width="1"/>
<text x="280.89" y="213.13" font-size="14.10" textLength="21.64" lengthAdjust="spacingAndGlyphs" fill="#000" stroke="#000" stroke-width="0.10">100</text>
<line x1="316.36" x2="316.36" y1="313.50" y2="315.10" stroke="#333" stroke-width="1"/>
<text x="312.77" y="326.65" font-size="13.90" textLength="7.19" lengthAdjust="spacingAndGlyphs" fill="#000" stroke="#000" stroke-width="0.10">0</text>
<line x1="345.05" x2="345.05" y1="313.50" y2="315.10" stroke="#333" stroke-width="1"/>
<text x="341.49" y="326.65" font-size="13.90" textLength="7.19" lengthAdjust="spacingAndGlyphs" fill="#000" stroke="#000" stroke-width="0.10">2</text>
<line x1="373.74" x2="373.74" y1="313.50" y2="315.10" stroke="#333" stroke-width="1"/>
<text x="370.08" y="326.65" font-size="13.90" textLength="7.19" lengthAdjust="spacingAndGlyphs" fill="#000" stroke="#000" stroke-width="0.10">4</text>
<line x1="402.43" x2="402.43" y1="313.50" y2="315.10" stroke="#333" stroke-width="1"/>
<text x="398.83" y="326.65" font-size="13.90" textLength="7.19" lengthAdjust="spacingAndGlyphs" fill="#000" stroke="#000" stroke-width="0.10">6</text>
<line x1="431.12" x2="431.12" y1="313.50" y2="315.10" stroke="#333" stroke-width="1"/>
<text x="427.52" y="326.65" font-size="13.90" textLength="7.19" lengthAdjust="spacingAndGlyphs" fill="#000" stroke="#000" stroke-width="0.10">8</text>
<line x1="459.81" x2="459.81" y1="313.50" y2="315.10" stroke="#333" stroke-width="1"/>
<text x="452.48" y="326.65" font-size="13.90" textLength="14.38" lengthAdjust="spacingAndGlyphs" fill="#000" stroke="#000" stroke-width="0.10">10</text>
<line x1="488.50" x2="488.50" y1="313.50" y2="315.10" stroke="#333" stroke-width="1"/>
<text x="481.17" y="326.65" font-size="13.90" textLength="14.38" lengthAdjust="spacingAndGlyphs" fill="#000" stroke="#000" stroke-width="0.10">12</text>
<line x1="517.20" x2="517.20" y1="313.50" y2="315.10" stroke="#333" stroke-width="1"/>
<text x="509.63" y="326.65" font-size="13.90" textLength="14.38" lengthAdjust="spacingAndGlyphs" fill="#000" stroke="#000" stroke-width="0.10">14</text>
<text x="372.52" y="198.50" font-size="17.60" textLength="101.94" lengthAdjust="spacingAndGlyphs" fill="#000">Peak (cm/s)</text>
<text x="279.54" y="188.40" font-size="12.80" textLength="18.41" lengthAdjust="spacingAndGlyphs" fill="#000">(D)</text>
<rect x="36.50" y="336.10" width="236.30" height="21.20" fill="#d9d9d9" stroke="#555555" stroke-width="1"/>
<rect x="36.50" y="357.20" width="237.10" height="110.60" fill="#d9d9d9"/>
<line x1="36.50" x2="273.60" y1="446.02" y2="446.02" stroke="#fff" stroke-opacity="0.5" stroke-width="0.9"/>
<line x1="36.50" x2="273.60" y1="412.50" y2="412.50" stroke="#fff" stroke-opacity="0.5" stroke-width="0.9"/>
<line x1="36.50" x2="273.60" y1="378.98" y2="378.98" stroke="#fff" stroke-opacity="0.5" stroke-width="0.9"/>
<line x1="61.65" x2="61.65" y1="357.20" y2="467.80" stroke="#fff" stroke-opacity="0.5" stroke-width="0.9"/>
<line x1="90.39" x2="90.39" y1="357.20" y2="467.80" stroke="#fff" stroke-opacity="0.5" stroke-width="0.9"/>
<line x1="119.13" x2="119.13" y1="357.20" y2="467.80" stroke="#fff" stroke-opacity="0.5" stroke-width="0.9"/>
<line x1="147.87" x2="147.87" y1="357.20" y2="467.80" stroke="#fff" stroke-opacity="0.5" stroke-width="0.9"/>
<line x1="176.60" x2="176.60" y1="357.20" y2="467.80" stroke="#fff" stroke-opacity="0.5" stroke-width="0.9"/>
<line x1="205.34" x2="205.34" y1="357.20" y2="467.80" stroke="#fff" stroke-opacity="0.5" stroke-width="0.9"/>
<line x1="234.08" x2="234.08" y1="357.20" y2="467.80" stroke="#fff" stroke-opacity="0.5" stroke-width="0.9"/>
<line x1="262.82" x2="262.82" y1="357.20" y2="467.80" stroke="#fff" stroke-opacity="0.5" stroke-width="0.9"/>
<line x1="36.50" x2="273.60" y1="462.77" y2="462.77" stroke="#fff" stroke-opacity="0.62" stroke-width="1.35"/>
<line x1="36.50" x2="273.60" y1="429.26" y2="429.26" stroke="#fff" stroke-opacity="0.62" stroke-width="1.35"/>
<line x1="36.50" x2="273.60" y1="395.74" y2="395.74" stroke="#fff" stroke-opacity="0.62" stroke-width="1.35"/>
<line x1="36.50" x2="273.60" y1="362.23" y2="362.23" stroke="#fff" stroke-opacity="0.62" stroke-width="1.35"/>
<line x1="47.28" x2="47.28" y1="357.20" y2="467.80" stroke="#fff" stroke-opacity="0.62" stroke-width="1.35"/>
<line x1="76.02" x2="76.02" y1="357.20" y2="467.80" stroke="#fff" stroke-opacity="0.62" stroke-width="1.35"/>
<line x1="104.76" x2="104.76" y1="357.20" y2="467.80" stroke="#fff" stroke-opacity="0.62" stroke-width="1.35"/>
<line x1="133.50" x2="133.50" y1="357.20" y2="467.80" stroke="#fff" stroke-opacity="0.62" stroke-width="1.35"/>
<line x1="162.23" x2="162.23" y1="357.20" y2="467.80" stroke="#fff" stroke-opacity="0.62" stroke-width="1.35"/>
<line x1="190.97" x2="190.97" y1="357.20" y2="467.80" stroke="#fff" stroke-opacity="0.62" stroke-width="1.35"/>
<line x1="219.71" x2="219.71" y1="357.20" y2="467.80" stroke="#fff" stroke-opacity="0.62" stroke-width="1.35"/>
<line x1="248.45" x2="248.45" y1="357.20" y2="467.80" stroke="#fff" stroke-opacity="0.62" stroke-width="1.35"/>
<line x1="36.50" x2="273.60" y1="402.50" y2="402.50" stroke="#2a2a2a" stroke-width="1.1" stroke-dasharray="2.3 2.3" stroke-opacity="0.85"/>
<line x1="36.50" x2="273.60" y1="387.90" y2="387.90" stroke="#a01010" stroke-width="0.95" stroke-dasharray="2.3 2.3" stroke-opacity="0.75"/>
<line x1="36.50" x2="273.60" y1="383.10" y2="383.10" stroke="#33337a" stroke-width="0.95" stroke-dasharray="2.3 2.3" stroke-opacity="0.7"/>
<circle cx="47.28" cy="383.10" r="3.55" fill="#1a1a84" stroke="#0e0e60" stroke-width="0.5"/>
<circle cx="61.65" cy="384.20" r="3.55" fill="#1a1a84" stroke="#0e0e60" stroke-width="0.5"/>
<circle cx="76.02" cy="390.90" r="3.55" fill="#1a1a84" stroke="#0e0e60" stroke-width="0.5"/>
<circle cx="90.39" cy="389.10" r="3.55" fill="#1a1a84" stroke="#0e0e60" stroke-width="0.5"/>
<circle cx="104.76" cy="390.50" r="3.55" fill="#1a1a84" stroke="#0e0e60" stroke-width="0.5"/>
<circle cx="119.13" cy="393.60" r="3.55" fill="#1a1a84" stroke="#0e0e60" stroke-width="0.5"/>
<circle cx="190.97" cy="395.00" r="3.55" fill="#1a1a84" stroke="#0e0e60" stroke-width="0.5"/>
<circle cx="248.45" cy="384.90" r="3.55" fill="#1a1a84" stroke="#0e0e60" stroke-width="0.5"/>
<polygon points="47.28,383.10 51.98,391.20 42.58,391.20" fill="#9c0a0a" stroke="#7a0000" stroke-width="0.5"/>
<polygon points="61.65,390.70 66.35,398.80 56.95,398.80" fill="#9c0a0a" stroke="#7a0000" stroke-width="0.5"/>
<polygon points="76.02,403.40 80.72,411.50 71.32,411.50" fill="#9c0a0a" stroke="#7a0000" stroke-width="0.5"/>
<polygon points="90.39,397.40 95.09,405.50 85.69,405.50" fill="#9c0a0a" stroke="#7a0000" stroke-width="0.5"/>
<polygon points="104.76,395.20 109.46,403.30 100.06,403.30" fill="#9c0a0a" stroke="#7a0000" stroke-width="0.5"/>
<polygon points="119.13,391.50 123.83,399.60 114.43,399.60" fill="#9c0a0a" stroke="#7a0000" stroke-width="0.5"/>
<polygon points="190.97,391.40 195.67,399.50 186.27,399.50" fill="#9c0a0a" stroke="#7a0000" stroke-width="0.5"/>
<polygon points="248.45,387.00 253.15,395.10 243.75,395.10" fill="#9c0a0a" stroke="#7a0000" stroke-width="0.5"/>
<rect x="43.73" y="399.15" width="7.1" height="7.1" fill="#000000"/>
<rect x="58.10" y="412.45" width="7.1" height="7.1" fill="#000000"/>
<rect x="72.47" y="416.65" width="7.1" height="7.1" fill="#000000"/>
<rect x="86.84" y="418.85" width="7.1" height="7.1" fill="#000000"/>
<rect x="101.21" y="411.95" width="7.1" height="7.1" fill="#000000"/>
<rect x="115.58" y="408.25" width="7.1" height="7.1" fill="#000000"/>
<rect x="187.42" y="412.85" width="7.1" height="7.1" fill="#000000"/>
<rect x="244.90" y="402.45" width="7.1" height="7.1" fill="#000000"/>
<line x1="272.90" x2="272.90" y1="357.20" y2="467.80" stroke="#707070" stroke-width="1.4"/>
<line x1="36.50" x2="273.60" y1="357.40" y2="357.40" stroke="#262626" stroke-width="2"/>
<line x1="36.80" x2="36.80" y1="357.20" y2="468.40" stroke="#262626" stroke-width="1.4"/>
<line x1="36.50" x2="273.60" y1="467.90" y2="467.90" stroke="#262626" stroke-width="1.4"/>
<line x1="34.90" x2="36.50" y1="462.77" y2="462.77" stroke="#333" stroke-width="1"/>
<text x="26.22" y="467.97" font-size="14.10" textLength="7.21" lengthAdjust="spacingAndGlyphs" fill="#000" stroke="#000" stroke-width="0.10">0</text>
<line x1="34.90" x2="36.50" y1="429.26" y2="429.26" stroke="#333" stroke-width="1"/>
<text x="19.00" y="434.46" font-size="14.10" textLength="14.43" lengthAdjust="spacingAndGlyphs" fill="#000" stroke="#000" stroke-width="0.10">20</text>
<line x1="34.90" x2="36.50" y1="395.74" y2="395.74" stroke="#333" stroke-width="1"/>
<text x="19.00" y="400.94" font-size="14.10" textLength="14.43" lengthAdjust="spacingAndGlyphs" fill="#000" stroke="#000" stroke-width="0.10">40</text>
<line x1="34.90" x2="36.50" y1="362.23" y2="362.23" stroke="#333" stroke-width="1"/>
<text x="19.00" y="367.43" font-size="14.10" textLength="14.43" lengthAdjust="spacingAndGlyphs" fill="#000" stroke="#000" stroke-width="0.10">60</text>
<line x1="47.28" x2="47.28" y1="467.80" y2="469.40" stroke="#333" stroke-width="1"/>
<text x="43.69" y="480.95" font-size="13.90" textLength="7.19" lengthAdjust="spacingAndGlyphs" fill="#000" stroke="#000" stroke-width="0.10">0</text>
<line x1="76.02" x2="76.02" y1="467.80" y2="469.40" stroke="#333" stroke-width="1"/>
<text x="72.46" y="480.95" font-size="13.90" textLength="7.19" lengthAdjust="spacingAndGlyphs" fill="#000" stroke="#000" stroke-width="0.10">2</text>
<line x1="104.76" x2="104.76" y1="467.80" y2="469.40" stroke="#333" stroke-width="1"/>
<text x="101.10" y="480.95" font-size="13.90" textLength="7.19" lengthAdjust="spacingAndGlyphs" fill="#000" stroke="#000" stroke-width="0.10">4</text>
<line x1="133.50" x2="133.50" y1="467.80" y2="469.40" stroke="#333" stroke-width="1"/>
<text x="129.90" y="480.95" font-size="13.90" textLength="7.19" lengthAdjust="spacingAndGlyphs" fill="#000" stroke="#000" stroke-width="0.10">6</text>
<line x1="162.23" x2="162.23" y1="467.80" y2="469.40" stroke="#333" stroke-width="1"/>
<text x="158.63" y="480.95" font-size="13.90" textLength="7.19" lengthAdjust="spacingAndGlyphs" fill="#000" stroke="#000" stroke-width="0.10">8</text>
<line x1="190.97" x2="190.97" y1="467.80" y2="469.40" stroke="#333" stroke-width="1"/>
<text x="183.64" y="480.95" font-size="13.90" textLength="14.38" lengthAdjust="spacingAndGlyphs" fill="#000" stroke="#000" stroke-width="0.10">10</text>
<line x1="219.71" x2="219.71" y1="467.80" y2="469.40" stroke="#333" stroke-width="1"/>
<text x="212.38" y="480.95" font-size="13.90" textLength="14.38" lengthAdjust="spacingAndGlyphs" fill="#000" stroke="#000" stroke-width="0.10">12</text>
<line x1="248.45" x2="248.45" y1="467.80" y2="469.40" stroke="#333" stroke-width="1"/>
<text x="240.89" y="480.95" font-size="13.90" textLength="14.38" lengthAdjust="spacingAndGlyphs" fill="#000" stroke="#000" stroke-width="0.10">14</text>
<text x="62.85" y="352.80" font-size="17.60" textLength="183.48" lengthAdjust="spacingAndGlyphs" fill="#000">Relative Increase (%)</text>
<text x="10.74" y="342.70" font-size="12.80" textLength="17.68" lengthAdjust="spacingAndGlyphs" fill="#000">(E)</text>
<rect x="305.60" y="336.10" width="235.90" height="21.20" fill="#d9d9d9" stroke="#555555" stroke-width="1"/>
<rect x="305.60" y="357.20" width="236.70" height="110.60" fill="#d9d9d9"/>
<line x1="305.60" x2="542.30" y1="446.02" y2="446.02" stroke="#fff" stroke-opacity="0.5" stroke-width="0.9"/>
<line x1="305.60" x2="542.30" y1="412.50" y2="412.50" stroke="#fff" stroke-opacity="0.5" stroke-width="0.9"/>
<line x1="305.60" x2="542.30" y1="378.98" y2="378.98" stroke="#fff" stroke-opacity="0.5" stroke-width="0.9"/>
<line x1="330.70" x2="330.70" y1="357.20" y2="467.80" stroke="#fff" stroke-opacity="0.5" stroke-width="0.9"/>
<line x1="359.40" x2="359.40" y1="357.20" y2="467.80" stroke="#fff" stroke-opacity="0.5" stroke-width="0.9"/>
<line x1="388.09" x2="388.09" y1="357.20" y2="467.80" stroke="#fff" stroke-opacity="0.5" stroke-width="0.9"/>
<line x1="416.78" x2="416.78" y1="357.20" y2="467.80" stroke="#fff" stroke-opacity="0.5" stroke-width="0.9"/>
<line x1="445.47" x2="445.47" y1="357.20" y2="467.80" stroke="#fff" stroke-opacity="0.5" stroke-width="0.9"/>
<line x1="474.16" x2="474.16" y1="357.20" y2="467.80" stroke="#fff" stroke-opacity="0.5" stroke-width="0.9"/>
<line x1="502.85" x2="502.85" y1="357.20" y2="467.80" stroke="#fff" stroke-opacity="0.5" stroke-width="0.9"/>
<line x1="531.54" x2="531.54" y1="357.20" y2="467.80" stroke="#fff" stroke-opacity="0.5" stroke-width="0.9"/>
<line x1="305.60" x2="542.30" y1="462.77" y2="462.77" stroke="#fff" stroke-opacity="0.62" stroke-width="1.35"/>
<line x1="305.60" x2="542.30" y1="429.26" y2="429.26" stroke="#fff" stroke-opacity="0.62" stroke-width="1.35"/>
<line x1="305.60" x2="542.30" y1="395.74" y2="395.74" stroke="#fff" stroke-opacity="0.62" stroke-width="1.35"/>
<line x1="305.60" x2="542.30" y1="362.23" y2="362.23" stroke="#fff" stroke-opacity="0.62" stroke-width="1.35"/>
<line x1="316.36" x2="316.36" y1="357.20" y2="467.80" stroke="#fff" stroke-opacity="0.62" stroke-width="1.35"/>
<line x1="345.05" x2="345.05" y1="357.20" y2="467.80" stroke="#fff" stroke-opacity="0.62" stroke-width="1.35"/>
<line x1="373.74" x2="373.74" y1="357.20" y2="467.80" stroke="#fff" stroke-opacity="0.62" stroke-width="1.35"/>
<line x1="402.43" x2="402.43" y1="357.20" y2="467.80" stroke="#fff" stroke-opacity="0.62" stroke-width="1.35"/>
<line x1="431.12" x2="431.12" y1="357.20" y2="467.80" stroke="#fff" stroke-opacity="0.62" stroke-width="1.35"/>
<line x1="459.81" x2="459.81" y1="357.20" y2="467.80" stroke="#fff" stroke-opacity="0.62" stroke-width="1.35"/>
<line x1="488.50" x2="488.50" y1="357.20" y2="467.80" stroke="#fff" stroke-opacity="0.62" stroke-width="1.35"/>
<line x1="517.20" x2="517.20" y1="357.20" y2="467.80" stroke="#fff" stroke-opacity="0.62" stroke-width="1.35"/>
<line x1="305.60" x2="542.30" y1="445.60" y2="445.60" stroke="#2a2a2a" stroke-width="1.1" stroke-dasharray="2.3 2.3" stroke-opacity="0.85"/>
<line x1="305.60" x2="542.30" y1="443.40" y2="443.40" stroke="#a01010" stroke-width="0.95" stroke-dasharray="2.3 2.3" stroke-opacity="0.75"/>
<line x1="305.60" x2="542.30" y1="445.20" y2="445.20" stroke="#33337a" stroke-width="0.95" stroke-dasharray="2.3 2.3" stroke-opacity="0.7"/>
<circle cx="316.36" cy="445.00" r="3.55" fill="#1a1a84" stroke="#0e0e60" stroke-width="0.5"/>
<circle cx="330.70" cy="441.00" r="3.55" fill="#1a1a84" stroke="#0e0e60" stroke-width="0.5"/>
<circle cx="345.05" cy="441.70" r="3.55" fill="#1a1a84" stroke="#0e0e60" stroke-width="0.5"/>
<circle cx="359.40" cy="441.30" r="3.55" fill="#1a1a84" stroke="#0e0e60" stroke-width="0.5"/>
<circle cx="373.74" cy="446.30" r="3.55" fill="#1a1a84" stroke="#0e0e60" stroke-width="0.5"/>
<circle cx="388.09" cy="445.20" r="3.55" fill="#1a1a84" stroke="#0e0e60" stroke-width="0.5"/>
<circle cx="459.81" cy="442.00" r="3.55" fill="#1a1a84" stroke="#0e0e60" stroke-width="0.5"/>
<circle cx="517.20" cy="445.00" r="3.55" fill="#1a1a84" stroke="#0e0e60" stroke-width="0.5"/>
<polygon points="316.36,437.70 321.06,445.80 311.66,445.80" fill="#9c0a0a" stroke="#7a0000" stroke-width="0.5"/>
<polygon points="330.70,437.40 335.40,445.50 326.00,445.50" fill="#9c0a0a" stroke="#7a0000" stroke-width="0.5"/>
<polygon points="345.05,440.00 349.75,448.10 340.35,448.10" fill="#9c0a0a" stroke="#7a0000" stroke-width="0.5"/>
<polygon points="359.40,443.70 364.10,451.80 354.70,451.80" fill="#9c0a0a" stroke="#7a0000" stroke-width="0.5"/>
<polygon points="373.74,445.30 378.44,453.40 369.04,453.40" fill="#9c0a0a" stroke="#7a0000" stroke-width="0.5"/>
<polygon points="388.09,441.90 392.79,450.00 383.39,450.00" fill="#9c0a0a" stroke="#7a0000" stroke-width="0.5"/>
<polygon points="459.81,442.60 464.51,450.70 455.11,450.70" fill="#9c0a0a" stroke="#7a0000" stroke-width="0.5"/>
<polygon points="517.20,443.40 521.90,451.50 512.50,451.50" fill="#9c0a0a" stroke="#7a0000" stroke-width="0.5"/>
<rect x="312.81" y="442.45" width="7.1" height="7.1" fill="#000000"/>
<rect x="327.15" y="436.25" width="7.1" height="7.1" fill="#000000"/>
<rect x="341.50" y="444.45" width="7.1" height="7.1" fill="#000000"/>
<rect x="355.85" y="441.65" width="7.1" height="7.1" fill="#000000"/>
<rect x="370.19" y="444.85" width="7.1" height="7.1" fill="#000000"/>
<rect x="384.54" y="440.95" width="7.1" height="7.1" fill="#000000"/>
<rect x="456.26" y="446.75" width="7.1" height="7.1" fill="#000000"/>
<rect x="513.65" y="443.95" width="7.1" height="7.1" fill="#000000"/>
<line x1="541.60" x2="541.60" y1="357.20" y2="467.80" stroke="#707070" stroke-width="1.4"/>
<line x1="305.60" x2="542.30" y1="357.40" y2="357.40" stroke="#262626" stroke-width="2"/>
<line x1="305.90" x2="305.90" y1="357.20" y2="468.40" stroke="#262626" stroke-width="1.4"/>
<line x1="305.60" x2="542.30" y1="467.90" y2="467.90" stroke="#262626" stroke-width="1.4"/>
<line x1="304.00" x2="305.60" y1="462.77" y2="462.77" stroke="#333" stroke-width="1"/>
<text x="295.32" y="467.97" font-size="14.10" textLength="7.21" lengthAdjust="spacingAndGlyphs" fill="#000" stroke="#000" stroke-width="0.10">0</text>
<line x1="304.00" x2="305.60" y1="429.26" y2="429.26" stroke="#333" stroke-width="1"/>
<text x="288.10" y="434.46" font-size="14.10" textLength="14.43" lengthAdjust="spacingAndGlyphs" fill="#000" stroke="#000" stroke-width="0.10">20</text>
<line x1="304.00" x2="305.60" y1="395.74" y2="395.74" stroke="#333" stroke-width="1"/>
<text x="288.10" y="400.94" font-size="14.10" textLength="14.43" lengthAdjust="spacingAndGlyphs" fill="#000" stroke="#000" stroke-width="0.10">40</text>
<line x1="304.00" x2="305.60" y1="362.23" y2="362.23" stroke="#333" stroke-width="1"/>
<text x="288.10" y="367.43" font-size="14.10" textLength="14.43" lengthAdjust="spacingAndGlyphs" fill="#000" stroke="#000" stroke-width="0.10">60</text>
<line x1="316.36" x2="316.36" y1="467.80" y2="469.40" stroke="#333" stroke-width="1"/>
<text x="312.77" y="480.95" font-size="13.90" textLength="7.19" lengthAdjust="spacingAndGlyphs" fill="#000" stroke="#000" stroke-width="0.10">0</text>
<line x1="345.05" x2="345.05" y1="467.80" y2="469.40" stroke="#333" stroke-width="1"/>
<text x="341.49" y="480.95" font-size="13.90" textLength="7.19" lengthAdjust="spacingAndGlyphs" fill="#000" stroke="#000" stroke-width="0.10">2</text>
<line x1="373.74" x2="373.74" y1="467.80" y2="469.40" stroke="#333" stroke-width="1"/>
<text x="370.08" y="480.95" font-size="13.90" textLength="7.19" lengthAdjust="spacingAndGlyphs" fill="#000" stroke="#000" stroke-width="0.10">4</text>
<line x1="402.43" x2="402.43" y1="467.80" y2="469.40" stroke="#333" stroke-width="1"/>
<text x="398.83" y="480.95" font-size="13.90" textLength="7.19" lengthAdjust="spacingAndGlyphs" fill="#000" stroke="#000" stroke-width="0.10">6</text>
<line x1="431.12" x2="431.12" y1="467.80" y2="469.40" stroke="#333" stroke-width="1"/>
<text x="427.52" y="480.95" font-size="13.90" textLength="7.19" lengthAdjust="spacingAndGlyphs" fill="#000" stroke="#000" stroke-width="0.10">8</text>
<line x1="459.81" x2="459.81" y1="467.80" y2="469.40" stroke="#333" stroke-width="1"/>
<text x="452.48" y="480.95" font-size="13.90" textLength="14.38" lengthAdjust="spacingAndGlyphs" fill="#000" stroke="#000" stroke-width="0.10">10</text>
<line x1="488.50" x2="488.50" y1="467.80" y2="469.40" stroke="#333" stroke-width="1"/>
<text x="481.17" y="480.95" font-size="13.90" textLength="14.38" lengthAdjust="spacingAndGlyphs" fill="#000" stroke="#000" stroke-width="0.10">12</text>
<line x1="517.20" x2="517.20" y1="467.80" y2="469.40" stroke="#333" stroke-width="1"/>
<text x="509.63" y="480.95" font-size="13.90" textLength="14.38" lengthAdjust="spacingAndGlyphs" fill="#000" stroke="#000" stroke-width="0.10">14</text>
<text x="331.75" y="352.80" font-size="17.60" textLength="183.48" lengthAdjust="spacingAndGlyphs" fill="#000">Relative Increase (%)</text>
<text x="279.54" y="342.70" font-size="12.80" textLength="16.93" lengthAdjust="spacingAndGlyphs" fill="#000">(F)</text>
<rect x="36.50" y="490.40" width="236.30" height="21.20" fill="#d9d9d9" stroke="#555555" stroke-width="1"/>
<rect x="36.50" y="511.50" width="237.10" height="110.60" fill="#d9d9d9"/>
<line x1="36.50" x2="273.60" y1="604.50" y2="604.50" stroke="#fff" stroke-opacity="0.5" stroke-width="0.9"/>
<line x1="36.50" x2="273.60" y1="579.37" y2="579.37" stroke="#fff" stroke-opacity="0.5" stroke-width="0.9"/>
<line x1="36.50" x2="273.60" y1="554.23" y2="554.23" stroke="#fff" stroke-opacity="0.5" stroke-width="0.9"/>
<line x1="36.50" x2="273.60" y1="529.10" y2="529.10" stroke="#fff" stroke-opacity="0.5" stroke-width="0.9"/>
<line x1="61.65" x2="61.65" y1="511.50" y2="622.10" stroke="#fff" stroke-opacity="0.5" stroke-width="0.9"/>
<line x1="90.39" x2="90.39" y1="511.50" y2="622.10" stroke="#fff" stroke-opacity="0.5" stroke-width="0.9"/>
<line x1="119.13" x2="119.13" y1="511.50" y2="622.10" stroke="#fff" stroke-opacity="0.5" stroke-width="0.9"/>
<line x1="147.87" x2="147.87" y1="511.50" y2="622.10" stroke="#fff" stroke-opacity="0.5" stroke-width="0.9"/>
<line x1="176.60" x2="176.60" y1="511.50" y2="622.10" stroke="#fff" stroke-opacity="0.5" stroke-width="0.9"/>
<line x1="205.34" x2="205.34" y1="511.50" y2="622.10" stroke="#fff" stroke-opacity="0.5" stroke-width="0.9"/>
<line x1="234.08" x2="234.08" y1="511.50" y2="622.10" stroke="#fff" stroke-opacity="0.5" stroke-width="0.9"/>
<line x1="262.82" x2="262.82" y1="511.50" y2="622.10" stroke="#fff" stroke-opacity="0.5" stroke-width="0.9"/>
<line x1="36.50" x2="273.60" y1="617.07" y2="617.07" stroke="#fff" stroke-opacity="0.62" stroke-width="1.35"/>
<line x1="36.50" x2="273.60" y1="591.94" y2="591.94" stroke="#fff" stroke-opacity="0.62" stroke-width="1.35"/>
<line x1="36.50" x2="273.60" y1="566.80" y2="566.80" stroke="#fff" stroke-opacity="0.62" stroke-width="1.35"/>
<line x1="36.50" x2="273.60" y1="541.66" y2="541.66" stroke="#fff" stroke-opacity="0.62" stroke-width="1.35"/>
<line x1="36.50" x2="273.60" y1="516.53" y2="516.53" stroke="#fff" stroke-opacity="0.62" stroke-width="1.35"/>
<line x1="47.28" x2="47.28" y1="511.50" y2="622.10" stroke="#fff" stroke-opacity="0.62" stroke-width="1.35"/>
<line x1="76.02" x2="76.02" y1="511.50" y2="622.10" stroke="#fff" stroke-opacity="0.62" stroke-width="1.35"/>
<line x1="104.76" x2="104.76" y1="511.50" y2="622.10" stroke="#fff" stroke-opacity="0.62" stroke-width="1.35"/>
<line x1="133.50" x2="133.50" y1="511.50" y2="622.10" stroke="#fff" stroke-opacity="0.62" stroke-width="1.35"/>
<line x1="162.23" x2="162.23" y1="511.50" y2="622.10" stroke="#fff" stroke-opacity="0.62" stroke-width="1.35"/>
<line x1="190.97" x2="190.97" y1="511.50" y2="622.10" stroke="#fff" stroke-opacity="0.62" stroke-width="1.35"/>
<line x1="219.71" x2="219.71" y1="511.50" y2="622.10" stroke="#fff" stroke-opacity="0.62" stroke-width="1.35"/>
<line x1="248.45" x2="248.45" y1="511.50" y2="622.10" stroke="#fff" stroke-opacity="0.62" stroke-width="1.35"/>
<line x1="36.50" x2="273.60" y1="532.40" y2="532.40" stroke="#2a2a2a" stroke-width="1.1" stroke-dasharray="2.3 2.3" stroke-opacity="0.85"/>
<line x1="36.50" x2="273.60" y1="541.60" y2="541.60" stroke="#a01010" stroke-width="0.95" stroke-dasharray="2.3 2.3" stroke-opacity="0.75"/>
<line x1="36.50" x2="273.60" y1="559.60" y2="559.60" stroke="#33337a" stroke-width="0.95" stroke-dasharray="2.3 2.3" stroke-opacity="0.7"/>
<circle cx="47.28" cy="559.60" r="3.55" fill="#1a1a84" stroke="#0e0e60" stroke-width="0.5"/>
<circle cx="61.65" cy="566.70" r="3.55" fill="#1a1a84" stroke="#0e0e60" stroke-width="0.5"/>
<circle cx="76.02" cy="570.90" r="3.55" fill="#1a1a84" stroke="#0e0e60" stroke-width="0.5"/>
<circle cx="90.39" cy="569.10" r="3.55" fill="#1a1a84" stroke="#0e0e60" stroke-width="0.5"/>
<circle cx="104.76" cy="567.30" r="3.55" fill="#1a1a84" stroke="#0e0e60" stroke-width="0.5"/>
<circle cx="119.13" cy="569.10" r="3.55" fill="#1a1a84" stroke="#0e0e60" stroke-width="0.5"/>
<circle cx="190.97" cy="569.20" r="3.55" fill="#1a1a84" stroke="#0e0e60" stroke-width="0.5"/>
<circle cx="248.45" cy="561.00" r="3.55" fill="#1a1a84" stroke="#0e0e60" stroke-width="0.5"/>
<polygon points="47.28,536.70 51.98,544.80 42.58,544.80" fill="#9c0a0a" stroke="#7a0000" stroke-width="0.5"/>
<polygon points="61.65,551.70 66.35,559.80 56.95,559.80" fill="#9c0a0a" stroke="#7a0000" stroke-width="0.5"/>
<polygon points="76.02,553.70 80.72,561.80 71.32,561.80" fill="#9c0a0a" stroke="#7a0000" stroke-width="0.5"/>
<polygon points="90.39,553.50 95.09,561.60 85.69,561.60" fill="#9c0a0a" stroke="#7a0000" stroke-width="0.5"/>
<polygon points="104.76,547.40 109.46,555.50 100.06,555.50" fill="#9c0a0a" stroke="#7a0000" stroke-width="0.5"/>
<polygon points="119.13,546.10 123.83,554.20 114.43,554.20" fill="#9c0a0a" stroke="#7a0000" stroke-width="0.5"/>
<polygon points="190.97,545.70 195.67,553.80 186.27,553.80" fill="#9c0a0a" stroke="#7a0000" stroke-width="0.5"/>
<polygon points="248.45,538.20 253.15,546.30 243.75,546.30" fill="#9c0a0a" stroke="#7a0000" stroke-width="0.5"/>
<rect x="43.73" y="528.65" width="7.1" height="7.1" fill="#000000"/>
<rect x="58.10" y="546.65" width="7.1" height="7.1" fill="#000000"/>
<rect x="72.47" y="552.45" width="7.1" height="7.1" fill="#000000"/>
<rect x="86.84" y="550.65" width="7.1" height="7.1" fill="#000000"/>
<rect x="101.21" y="533.15" width="7.1" height="7.1" fill="#000000"/>
<rect x="115.58" y="533.15" width="7.1" height="7.1" fill="#000000"/>
<rect x="187.42" y="532.35" width="7.1" height="7.1" fill="#000000"/>
<rect x="244.90" y="524.55" width="7.1" height="7.1" fill="#000000"/>
<line x1="272.90" x2="272.90" y1="511.50" y2="622.10" stroke="#707070" stroke-width="1.4"/>
<line x1="36.50" x2="273.60" y1="511.70" y2="511.70" stroke="#262626" stroke-width="2"/>
<line x1="36.80" x2="36.80" y1="511.50" y2="622.70" stroke="#262626" stroke-width="1.4"/>
<line x1="36.50" x2="273.60" y1="622.20" y2="622.20" stroke="#262626" stroke-width="1.4"/>
<line x1="34.90" x2="36.50" y1="617.07" y2="617.07" stroke="#333" stroke-width="1"/>
<text x="26.22" y="622.27" font-size="14.10" textLength="7.21" lengthAdjust="spacingAndGlyphs" fill="#000" stroke="#000" stroke-width="0.10">0</text>
<line x1="34.90" x2="36.50" y1="591.94" y2="591.94" stroke="#333" stroke-width="1"/>
<text x="11.79" y="597.14" font-size="14.10" textLength="21.64" lengthAdjust="spacingAndGlyphs" fill="#000" stroke="#000" stroke-width="0.10">100</text>
<line x1="34.90" x2="36.50" y1="566.80" y2="566.80" stroke="#333" stroke-width="1"/>
<text x="10.87" y="572.00" font-size="14.10" textLength="22.58" lengthAdjust="spacingAndGlyphs" fill="#000" stroke="#000" stroke-width="0.10">200</text>
<line x1="34.90" x2="36.50" y1="541.66" y2="541.66" stroke="#333" stroke-width="1"/>
<text x="10.87" y="546.86" font-size="14.10" textLength="22.58" lengthAdjust="spacingAndGlyphs" fill="#000" stroke="#000" stroke-width="0.10">300</text>
<line x1="34.90" x2="36.50" y1="516.53" y2="516.53" stroke="#333" stroke-width="1"/>
<text x="10.87" y="521.73" font-size="14.10" textLength="22.58" lengthAdjust="spacingAndGlyphs" fill="#000" stroke="#000" stroke-width="0.10">400</text>
<line x1="47.28" x2="47.28" y1="622.10" y2="623.70" stroke="#333" stroke-width="1"/>
<text x="43.69" y="635.25" font-size="13.90" textLength="7.19" lengthAdjust="spacingAndGlyphs" fill="#000" stroke="#000" stroke-width="0.10">0</text>
<line x1="76.02" x2="76.02" y1="622.10" y2="623.70" stroke="#333" stroke-width="1"/>
<text x="72.46" y="635.25" font-size="13.90" textLength="7.19" lengthAdjust="spacingAndGlyphs" fill="#000" stroke="#000" stroke-width="0.10">2</text>
<line x1="104.76" x2="104.76" y1="622.10" y2="623.70" stroke="#333" stroke-width="1"/>
<text x="101.10" y="635.25" font-size="13.90" textLength="7.19" lengthAdjust="spacingAndGlyphs" fill="#000" stroke="#000" stroke-width="0.10">4</text>
<line x1="133.50" x2="133.50" y1="622.10" y2="623.70" stroke="#333" stroke-width="1"/>
<text x="129.90" y="635.25" font-size="13.90" textLength="7.19" lengthAdjust="spacingAndGlyphs" fill="#000" stroke="#000" stroke-width="0.10">6</text>
<line x1="162.23" x2="162.23" y1="622.10" y2="623.70" stroke="#333" stroke-width="1"/>
<text x="158.63" y="635.25" font-size="13.90" textLength="7.19" lengthAdjust="spacingAndGlyphs" fill="#000" stroke="#000" stroke-width="0.10">8</text>
<line x1="190.97" x2="190.97" y1="622.10" y2="623.70" stroke="#333" stroke-width="1"/>
<text x="183.64" y="635.25" font-size="13.90" textLength="14.38" lengthAdjust="spacingAndGlyphs" fill="#000" stroke="#000" stroke-width="0.10">10</text>
<line x1="219.71" x2="219.71" y1="622.10" y2="623.70" stroke="#333" stroke-width="1"/>
<text x="212.38" y="635.25" font-size="13.90" textLength="14.38" lengthAdjust="spacingAndGlyphs" fill="#000" stroke="#000" stroke-width="0.10">12</text>
<line x1="248.45" x2="248.45" y1="622.10" y2="623.70" stroke="#333" stroke-width="1"/>
<text x="240.89" y="635.25" font-size="13.90" textLength="14.38" lengthAdjust="spacingAndGlyphs" fill="#000" stroke="#000" stroke-width="0.10">14</text>
<text x="87.71" y="507.10" font-size="17.60" textLength="134.54" lengthAdjust="spacingAndGlyphs" fill="#000">AUC (cm/s/30s)</text>
<text x="10.74" y="497.00" font-size="12.80" textLength="19.15" lengthAdjust="spacingAndGlyphs" fill="#000">(G)</text>
<rect x="305.60" y="490.40" width="235.90" height="21.20" fill="#d9d9d9" stroke="#555555" stroke-width="1"/>
<rect x="305.60" y="511.50" width="236.70" height="110.60" fill="#d9d9d9"/>
<line x1="305.60" x2="542.30" y1="604.50" y2="604.50" stroke="#fff" stroke-opacity="0.5" stroke-width="0.9"/>
<line x1="305.60" x2="542.30" y1="579.37" y2="579.37" stroke="#fff" stroke-opacity="0.5" stroke-width="0.9"/>
<line x1="305.60" x2="542.30" y1="554.23" y2="554.23" stroke="#fff" stroke-opacity="0.5" stroke-width="0.9"/>
<line x1="305.60" x2="542.30" y1="529.10" y2="529.10" stroke="#fff" stroke-opacity="0.5" stroke-width="0.9"/>
<line x1="330.70" x2="330.70" y1="511.50" y2="622.10" stroke="#fff" stroke-opacity="0.5" stroke-width="0.9"/>
<line x1="359.40" x2="359.40" y1="511.50" y2="622.10" stroke="#fff" stroke-opacity="0.5" stroke-width="0.9"/>
<line x1="388.09" x2="388.09" y1="511.50" y2="622.10" stroke="#fff" stroke-opacity="0.5" stroke-width="0.9"/>
<line x1="416.78" x2="416.78" y1="511.50" y2="622.10" stroke="#fff" stroke-opacity="0.5" stroke-width="0.9"/>
<line x1="445.47" x2="445.47" y1="511.50" y2="622.10" stroke="#fff" stroke-opacity="0.5" stroke-width="0.9"/>
<line x1="474.16" x2="474.16" y1="511.50" y2="622.10" stroke="#fff" stroke-opacity="0.5" stroke-width="0.9"/>
<line x1="502.85" x2="502.85" y1="511.50" y2="622.10" stroke="#fff" stroke-opacity="0.5" stroke-width="0.9"/>
<line x1="531.54" x2="531.54" y1="511.50" y2="622.10" stroke="#fff" stroke-opacity="0.5" stroke-width="0.9"/>
<line x1="305.60" x2="542.30" y1="617.07" y2="617.07" stroke="#fff" stroke-opacity="0.62" stroke-width="1.35"/>
<line x1="305.60" x2="542.30" y1="591.94" y2="591.94" stroke="#fff" stroke-opacity="0.62" stroke-width="1.35"/>
<line x1="305.60" x2="542.30" y1="566.80" y2="566.80" stroke="#fff" stroke-opacity="0.62" stroke-width="1.35"/>
<line x1="305.60" x2="542.30" y1="541.66" y2="541.66" stroke="#fff" stroke-opacity="0.62" stroke-width="1.35"/>
<line x1="305.60" x2="542.30" y1="516.53" y2="516.53" stroke="#fff" stroke-opacity="0.62" stroke-width="1.35"/>
<line x1="316.36" x2="316.36" y1="511.50" y2="622.10" stroke="#fff" stroke-opacity="0.62" stroke-width="1.35"/>
<line x1="345.05" x2="345.05" y1="511.50" y2="622.10" stroke="#fff" stroke-opacity="0.62" stroke-width="1.35"/>
<line x1="373.74" x2="373.74" y1="511.50" y2="622.10" stroke="#fff" stroke-opacity="0.62" stroke-width="1.35"/>
<line x1="402.43" x2="402.43" y1="511.50" y2="622.10" stroke="#fff" stroke-opacity="0.62" stroke-width="1.35"/>
<line x1="431.12" x2="431.12" y1="511.50" y2="622.10" stroke="#fff" stroke-opacity="0.62" stroke-width="1.35"/>
<line x1="459.81" x2="459.81" y1="511.50" y2="622.10" stroke="#fff" stroke-opacity="0.62" stroke-width="1.35"/>
<line x1="488.50" x2="488.50" y1="511.50" y2="622.10" stroke="#fff" stroke-opacity="0.62" stroke-width="1.35"/>
<line x1="517.20" x2="517.20" y1="511.50" y2="622.10" stroke="#fff" stroke-opacity="0.62" stroke-width="1.35"/>
<line x1="305.60" x2="542.30" y1="578.10" y2="578.10" stroke="#2a2a2a" stroke-width="1.1" stroke-dasharray="2.3 2.3" stroke-opacity="0.85"/>
<line x1="305.60" x2="542.30" y1="586.70" y2="586.70" stroke="#a01010" stroke-width="0.95" stroke-dasharray="2.3 2.3" stroke-opacity="0.75"/>
<line x1="305.60" x2="542.30" y1="596.50" y2="596.50" stroke="#33337a" stroke-width="0.95" stroke-dasharray="2.3 2.3" stroke-opacity="0.7"/>
<circle cx="316.36" cy="596.50" r="3.55" fill="#1a1a84" stroke="#0e0e60" stroke-width="0.5"/>
<circle cx="330.70" cy="599.00" r="3.55" fill="#1a1a84" stroke="#0e0e60" stroke-width="0.5"/>
<circle cx="345.05" cy="596.50" r="3.55" fill="#1a1a84" stroke="#0e0e60" stroke-width="0.5"/>
<circle cx="359.40" cy="605.90" r="3.55" fill="#1a1a84" stroke="#0e0e60" stroke-width="0.5"/>
<circle cx="373.74" cy="608.60" r="3.55" fill="#1a1a84" stroke="#0e0e60" stroke-width="0.5"/>
<circle cx="388.09" cy="606.50" r="3.55" fill="#1a1a84" stroke="#0e0e60" stroke-width="0.5"/>
<circle cx="459.81" cy="609.20" r="3.55" fill="#1a1a84" stroke="#0e0e60" stroke-width="0.5"/>
<circle cx="517.20" cy="605.90" r="3.55" fill="#1a1a84" stroke="#0e0e60" stroke-width="0.5"/>
<polygon points="316.36,581.70 321.06,589.80 311.66,589.80" fill="#9c0a0a" stroke="#7a0000" stroke-width="0.5"/>
<polygon points="330.70,586.40 335.40,594.50 326.00,594.50" fill="#9c0a0a" stroke="#7a0000" stroke-width="0.5"/>
<polygon points="345.05,587.10 349.75,595.20 340.35,595.20" fill="#9c0a0a" stroke="#7a0000" stroke-width="0.5"/>
<polygon points="359.40,595.40 364.10,603.50 354.70,603.50" fill="#9c0a0a" stroke="#7a0000" stroke-width="0.5"/>
<polygon points="373.74,597.00 378.44,605.10 369.04,605.10" fill="#9c0a0a" stroke="#7a0000" stroke-width="0.5"/>
<polygon points="388.09,595.40 392.79,603.50 383.39,603.50" fill="#9c0a0a" stroke="#7a0000" stroke-width="0.5"/>
<polygon points="459.81,599.20 464.51,607.30 455.11,607.30" fill="#9c0a0a" stroke="#7a0000" stroke-width="0.5"/>
<polygon points="517.20,595.70 521.90,603.80 512.50,603.80" fill="#9c0a0a" stroke="#7a0000" stroke-width="0.5"/>
<rect x="312.81" y="574.15" width="7.1" height="7.1" fill="#000000"/>
<rect x="327.15" y="576.55" width="7.1" height="7.1" fill="#000000"/>
<rect x="341.50" y="580.55" width="7.1" height="7.1" fill="#000000"/>
<rect x="355.85" y="579.95" width="7.1" height="7.1" fill="#000000"/>
<rect x="370.19" y="581.85" width="7.1" height="7.1" fill="#000000"/>
<rect x="384.54" y="579.65" width="7.1" height="7.1" fill="#000000"/>
<rect x="456.26" y="586.55" width="7.1" height="7.1" fill="#000000"/>
<rect x="513.65" y="577.45" width="7.1" height="7.1" fill="#000000"/>
<line x1="541.60" x2="541.60" y1="511.50" y2="622.10" stroke="#707070" stroke-width="1.4"/>
<line x1="305.60" x2="542.30" y1="511.70" y2="511.70" stroke="#262626" stroke-width="2"/>
<line x1="305.90" x2="305.90" y1="511.50" y2="622.70" stroke="#262626" stroke-width="1.4"/>
<line x1="305.60" x2="542.30" y1="622.20" y2="622.20" stroke="#262626" stroke-width="1.4"/>
<line x1="304.00" x2="305.60" y1="617.07" y2="617.07" stroke="#333" stroke-width="1"/>
<text x="295.32" y="622.27" font-size="14.10" textLength="7.21" lengthAdjust="spacingAndGlyphs" fill="#000" stroke="#000" stroke-width="0.10">0</text>
<line x1="304.00" x2="305.60" y1="591.94" y2="591.94" stroke="#333" stroke-width="1"/>
<text x="280.89" y="597.14" font-size="14.10" textLength="21.64" lengthAdjust="spacingAndGlyphs" fill="#000" stroke="#000" stroke-width="0.10">100</text>
<line x1="304.00" x2="305.60" y1="566.80" y2="566.80" stroke="#333" stroke-width="1"/>
<text x="279.97" y="572.00" font-size="14.10" textLength="22.58" lengthAdjust="spacingAndGlyphs" fill="#000" stroke="#000" stroke-width="0.10">200</text>
<line x1="304.00" x2="305.60" y1="541.66" y2="541.66" stroke="#333" stroke-width="1"/>
<text x="279.97" y="546.86" font-size="14.10" textLength="22.58" lengthAdjust="spacingAndGlyphs" fill="#000" stroke="#000" stroke-width="0.10">300</text>
<line x1="304.00" x2="305.60" y1="516.53" y2="516.53" stroke="#333" stroke-width="1"/>
<text x="279.97" y="521.73" font-size="14.10" textLength="22.58" lengthAdjust="spacingAndGlyphs" fill="#000" stroke="#000" stroke-width="0.10">400</text>
<line x1="316.36" x2="316.36" y1="622.10" y2="623.70" stroke="#333" stroke-width="1"/>
<text x="312.77" y="635.25" font-size="13.90" textLength="7.19" lengthAdjust="spacingAndGlyphs" fill="#000" stroke="#000" stroke-width="0.10">0</text>
<line x1="345.05" x2="345.05" y1="622.10" y2="623.70" stroke="#333" stroke-width="1"/>
<text x="341.49" y="635.25" font-size="13.90" textLength="7.19" lengthAdjust="spacingAndGlyphs" fill="#000" stroke="#000" stroke-width="0.10">2</text>
<line x1="373.74" x2="373.74" y1="622.10" y2="623.70" stroke="#333" stroke-width="1"/>
<text x="370.08" y="635.25" font-size="13.90" textLength="7.19" lengthAdjust="spacingAndGlyphs" fill="#000" stroke="#000" stroke-width="0.10">4</text>
<line x1="402.43" x2="402.43" y1="622.10" y2="623.70" stroke="#333" stroke-width="1"/>
<text x="398.83" y="635.25" font-size="13.90" textLength="7.19" lengthAdjust="spacingAndGlyphs" fill="#000" stroke="#000" stroke-width="0.10">6</text>
<line x1="431.12" x2="431.12" y1="622.10" y2="623.70" stroke="#333" stroke-width="1"/>
<text x="427.52" y="635.25" font-size="13.90" textLength="7.19" lengthAdjust="spacingAndGlyphs" fill="#000" stroke="#000" stroke-width="0.10">8</text>
<line x1="459.81" x2="459.81" y1="622.10" y2="623.70" stroke="#333" stroke-width="1"/>
<text x="452.48" y="635.25" font-size="13.90" textLength="14.38" lengthAdjust="spacingAndGlyphs" fill="#000" stroke="#000" stroke-width="0.10">10</text>
<line x1="488.50" x2="488.50" y1="622.10" y2="623.70" stroke="#333" stroke-width="1"/>
<text x="481.17" y="635.25" font-size="13.90" textLength="14.38" lengthAdjust="spacingAndGlyphs" fill="#000" stroke="#000" stroke-width="0.10">12</text>
<line x1="517.20" x2="517.20" y1="622.10" y2="623.70" stroke="#333" stroke-width="1"/>
<text x="509.63" y="635.25" font-size="13.90" textLength="14.38" lengthAdjust="spacingAndGlyphs" fill="#000" stroke="#000" stroke-width="0.10">14</text>
<text x="356.61" y="507.10" font-size="17.60" textLength="134.54" lengthAdjust="spacingAndGlyphs" fill="#000">AUC (cm/s/30s)</text>
<text x="279.54" y="497.00" font-size="12.80" textLength="18.41" lengthAdjust="spacingAndGlyphs" fill="#000">(H)</text>
<text x="26.63" y="21.60" font-size="19.50" textLength="244.88" lengthAdjust="spacingAndGlyphs" fill="#000" stroke="#000" stroke-width="0.55">Posterior Cerebral Artery</text>
<text x="307.23" y="21.60" font-size="19.50" textLength="219.58" lengthAdjust="spacingAndGlyphs" fill="#000" stroke="#000" stroke-width="0.55">Middle Cerebral Artery</text>
<text x="97.29" y="653.60" font-size="14.40" textLength="110.29" lengthAdjust="spacingAndGlyphs" fill="#000" stroke="#000" stroke-width="0.10">Day Post-Injury</text>
<text x="366.09" y="653.60" font-size="14.40" textLength="110.49" lengthAdjust="spacingAndGlyphs" fill="#000" stroke="#000" stroke-width="0.10">Day Post-Injury</text>
<rect x="131.80" y="673.7" width="10.20" height="19.1" fill="#e4e4e4" stroke="#a0a0a0" stroke-width="1.8"/>
<circle cx="136.9" cy="683.2" r="3.6" fill="#1a1a84" stroke="#0e0e60" stroke-width="0.5"/>
<rect x="249.40" y="673.7" width="10.30" height="19.1" fill="#e4e4e4" stroke="#a0a0a0" stroke-width="1.8"/>
<polygon points="254.55,677.90 259.45,686.00 249.65,686.00" fill="#9c0a0a" stroke="#7a0000" stroke-width="0.5"/>
<rect x="342.90" y="673.7" width="9.90" height="19.1" fill="#e4e4e4" stroke="#a0a0a0" stroke-width="1.8"/>
<rect x="344.3" y="679.8" width="7.1" height="7.1" fill="#000"/>
<text x="144.47" y="689.50" font-size="18.40" textLength="71.76" lengthAdjust="spacingAndGlyphs" fill="#000" stroke="#000" stroke-width="0.10">Diastole</text>
<text x="262.27" y="689.50" font-size="18.40" textLength="47.07" lengthAdjust="spacingAndGlyphs" fill="#000" stroke="#000" stroke-width="0.10">Mean</text>
<text x="355.87" y="689.50" font-size="18.40" textLength="64.95" lengthAdjust="spacingAndGlyphs" fill="#000" stroke="#000" stroke-width="0.10">Systole</text>
<rect x="5.3" y="4.7" width="541.9" height="692.6" fill="none" stroke="#2a2a2a" stroke-width="1.2"/>
</svg>
</body></html>
